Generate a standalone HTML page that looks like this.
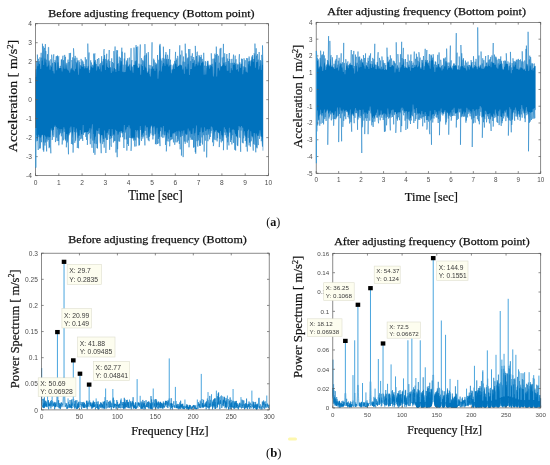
<!DOCTYPE html>
<html lang="en"><head><meta charset="utf-8"><title>Acceleration and power spectrum before and after adjusting frequency</title>
<style>
html,body{margin:0;padding:0;background:#fff}
svg{display:block;position:absolute;left:0;top:0}
text{font-family:"Liberation Serif","DejaVu Serif",serif;fill:#1a1a1a}
.tk{font-size:6.6px}
.tk text{font-family:"Liberation Sans","DejaVu Sans",sans-serif;fill:#4c4c4c}
.tt{fill:#111;stroke:#111;stroke-width:0.25px}
.lb{fill:#111;stroke:#111;stroke-width:0.22px}
.cap{font-size:11.5px;fill:#111}
.tip rect{fill:#fdfdef;stroke:#dedece;stroke-width:0.6}
.tip text{font-family:"Liberation Sans","DejaVu Sans",sans-serif;fill:#3a3a3a}
.mk{fill:#000}
.sig{fill:none;stroke:#1079c4;stroke-linejoin:round}
.spec{fill:none;stroke:#0072BD;stroke-linejoin:round}
.pk{fill:none;stroke:#4aa5de;stroke-width:1}
</style></head><body>
<svg width="550" height="465" viewBox="0 0 550 465">
<rect width="550" height="465" fill="#fff"/>
<path class="sig" stroke-width="0.52" d="M35.71 168 35.71 76.9 36.13 69.3 36.13 141.4 36.55 135.2 36.55 61.4 36.97 61.6 36.97 138.7 37.39 140.9 37.39 54.6 37.81 66.2 37.81 140.9 38.23 150 38.23 60.9 38.65 58.8 38.65 134.8 39.07 137.1 39.07 61 39.49 63.9 39.49 148.5 39.91 144.2 39.91 57.3 40.33 59.6 40.33 148.4 40.75 137.7 40.75 68.9 41.17 52.8 41.17 137.6 41.59 142.2 41.59 57.7 42.01 60.6 42.01 135.2 42.43 134.8 42.43 43.7 42.85 50.5 42.85 142.8 43.27 150.2 43.27 46.3 43.69 65 43.69 151.7 44.11 142.3 44.11 50.1 44.53 47.9 44.53 135.2 44.95 145.5 44.95 58.6 45.37 44.1 45.37 142.5 45.79 136.8 45.79 50.9 46.21 62.4 46.21 139.7 46.63 151.4 46.63 59.7 47.05 66.8 47.05 141.6 47.47 139.2 47.47 54.2 47.89 65.6 47.89 136.6 48.31 140 48.31 47.4 48.73 47.2 48.73 137.7 49.15 148.2 49.15 60.5 49.57 62.2 49.57 147.1 49.99 137 49.99 69.7 50.41 65.5 50.41 144.2 50.83 153.3 50.83 59.3 51.25 66.7 51.25 128.5 51.67 130.4 51.67 54.7 52.09 60.5 52.09 140 52.51 139.2 52.51 62.8 52.93 70.9 52.93 135.5 53.35 129.9 53.35 58.4 53.77 54.3 53.77 137.1 54.19 132.5 54.19 73.5 54.61 62 54.61 126.9 55.03 125.6 55.03 60.2 55.45 62.7 55.45 142.1 55.87 137 55.87 60.8 56.29 56.2 56.29 127.1 56.71 137.7 56.71 70.3 57.13 56.2 57.13 141.1 57.55 130.6 57.55 55.5 57.97 62.2 57.97 128.3 58.39 141 58.39 57.7 58.81 56.3 58.81 145.3 59.23 136.2 59.23 68.6 59.65 67.9 59.65 134.5 60.07 129.1 60.07 66 60.49 66 60.49 133.2 60.91 132.5 60.91 68.1 61.33 59.7 61.33 136.3 61.75 129 61.75 59.4 62.17 71.6 62.17 144.5 62.59 137.1 62.59 57.5 63.01 55.7 63.01 133.3 63.43 140.3 63.43 60.1 63.85 65.9 63.85 127.3 64.27 131.8 64.27 68.8 64.69 54.9 64.69 129.2 65.11 139.3 65.11 61.4 65.53 56.8 65.53 140.7 65.95 140.3 65.95 68.7 66.37 64.4 66.37 147.3 66.79 134 66.79 62.9 67.21 65.3 67.21 142.5 67.63 140.7 67.63 69.5 68.05 59.6 68.05 142.5 68.47 154.3 68.47 70.5 68.89 62 68.89 135.3 69.31 133.3 69.31 53.1 69.73 72.8 69.73 133.3 70.15 127.7 70.15 63.8 70.57 52.9 70.57 132.2 70.99 126.6 70.99 69.5 71.41 68.3 71.41 144 71.83 132.6 71.83 60.1 72.25 62.7 72.25 138.4 72.67 144.5 72.67 57.4 73.09 69.7 73.09 152.6 73.51 131.6 73.51 48.3 73.93 53 73.93 127 74.35 132 74.35 71.2 74.77 58.4 74.77 142.8 75.19 139.2 75.19 55.9 75.61 68.8 75.61 140.7 76.03 133.3 76.03 61.8 76.45 63.2 76.45 128.6 76.87 132.4 76.87 57.7 77.29 61.3 77.29 148 77.71 142.3 77.71 60.5 78.13 68.4 78.13 138.3 78.55 148.3 78.55 74.7 78.97 60.3 78.97 135.6 79.39 140.7 79.39 63.2 79.81 62.2 79.81 135.8 80.23 130.1 80.23 68.7 80.65 65.2 80.65 139.2 81.07 134.1 81.07 58.9 81.49 61.8 81.49 136.8 81.91 138.7 81.91 66.4 82.33 60.5 82.33 134.4 82.75 141 82.75 66.8 83.17 61.6 83.17 125.1 83.59 134.9 83.59 64 84.01 64 84.01 132.8 84.43 132.9 84.43 68.4 84.85 66.2 84.85 132 85.27 132 85.27 57.2 85.69 65.6 85.69 136.8 86.11 133.7 86.11 68.3 86.53 59.4 86.53 139.9 86.95 131.9 86.95 66.2 87.37 68.2 87.37 144.9 87.79 133 87.79 43.6 88.21 63.2 88.21 132 88.63 134.2 88.63 65.8 89.05 52.5 89.05 130.8 89.47 132.9 89.47 72.9 89.89 69.8 89.89 128.3 90.31 144.2 90.31 65.3 90.73 60.3 90.73 138.6 91.15 134.3 91.15 65.8 91.57 62.5 91.57 128.7 91.99 147.8 91.99 67.2 92.41 64.8 92.41 124.2 92.83 140.5 92.83 67.8 93.25 65.5 93.25 133.9 93.67 152.8 93.67 53.6 94.09 62.1 94.09 140.5 94.51 143.4 94.51 55 94.93 53.4 94.93 154.8 95.35 137.2 95.35 60.1 95.77 62.8 95.77 136.5 96.19 143.9 96.19 64 96.61 70.5 96.61 130.4 97.03 148 97.03 63.2 97.45 59 97.45 148.5 97.87 131.1 97.87 66.2 98.29 66.6 98.29 133.7 98.71 131.1 98.71 58 99.13 61.2 99.13 127.9 99.55 134.3 99.55 69.2 99.97 64.2 99.97 140.4 100.39 143.3 100.39 64.4 100.81 62.9 100.81 142.7 101.23 153.2 101.23 71.5 101.65 56.2 101.65 135 102.07 135.2 102.07 61.4 102.49 65.2 102.49 143.9 102.91 143.6 102.91 65.3 103.33 59 103.33 139.1 103.75 141.8 103.75 50.9 104.17 49.1 104.17 147.7 104.59 130.6 104.59 55 105.01 60.7 105.01 138.4 105.43 137.4 105.43 70 105.85 59 105.85 153 106.27 140.4 106.27 63.1 106.69 53.8 106.69 140 107.11 133.1 107.11 60.4 107.53 66.9 107.53 139.8 107.95 136.8 107.95 64.2 108.37 59.4 108.37 131.5 108.79 134.6 108.79 68 109.21 50 109.21 129.1 109.63 149.8 109.63 61.2 110.05 61 110.05 139 110.47 136 110.47 67.3 110.89 68 110.89 144.7 111.31 146.8 111.31 73.1 111.73 58.3 111.73 138.2 112.15 128.9 112.15 64.8 112.57 62 112.57 135.6 112.99 135 112.99 71.5 113.41 63.2 113.41 142.5 113.83 134.5 113.83 51.1 114.25 68.1 114.25 136.5 114.67 141.2 114.67 68.1 115.09 46.5 115.09 140.8 115.51 129.7 115.51 69.3 115.93 72.1 115.93 152.5 116.35 138 116.35 63 116.77 50.1 116.77 131.1 117.19 157.2 117.19 53.3 117.61 50.4 117.61 149.2 118.03 134.8 118.03 64 118.45 63.4 118.45 134.9 118.87 141.4 118.87 71 119.29 56.7 119.29 132.3 119.71 141.6 119.71 65.7 120.13 60.3 120.13 131.5 120.55 137.4 120.55 57.8 120.97 61.3 120.97 132.7 121.39 130.9 121.39 61.1 121.81 47.7 121.81 131.9 122.23 133.4 122.23 51.7 122.65 71.8 122.65 137.2 123.07 134.2 123.07 64.7 123.49 70.3 123.49 132 123.91 148 123.91 72.3 124.33 58.5 124.33 125 124.75 139.4 124.75 52.7 125.17 72.1 125.17 132.6 125.59 131.4 125.59 69.3 126.01 64.6 126.01 129.6 126.43 139.4 126.43 61.1 126.85 60.4 126.85 150.6 127.27 126.9 127.27 61.5 127.69 58.2 127.69 144 128.11 127.8 128.11 67.1 128.53 65.8 128.53 145.9 128.95 125.2 128.95 61.5 129.37 57.6 129.37 137.8 129.79 134.3 129.79 64.4 130.21 68.9 130.21 128.5 130.63 138.1 130.63 70.4 131.05 48.2 131.05 150.9 131.47 145 131.47 62.9 131.89 60.1 131.89 138.3 132.31 137.4 132.31 66.6 132.73 70.3 132.73 138.4 133.15 138.5 133.15 72.7 133.57 64.9 133.57 140.5 133.99 137.6 133.99 47.6 134.41 65.1 134.41 143.7 134.83 146.6 134.83 64.4 135.25 61.2 135.25 140.4 135.67 130 135.67 59.9 136.09 45.1 136.09 146.3 136.51 132.2 136.51 47.1 136.93 60.3 136.93 137.3 137.35 130.3 137.35 65.8 137.77 46.5 137.77 130.6 138.19 137.9 138.19 67.9 138.61 67.7 138.61 139.2 139.03 145.7 139.03 63.7 139.45 66.2 139.45 145 139.87 138.8 139.87 55.2 140.29 44.5 140.29 125.9 140.71 130 140.71 74.7 141.13 64.4 141.13 136.8 141.55 140.9 141.55 58.2 141.97 63.7 141.97 137 142.39 135 142.39 66.1 142.81 59.9 142.81 138.6 143.23 133.3 143.23 61.1 143.65 70 143.65 136.5 144.07 133.7 144.07 57.4 144.49 55.6 144.49 131.3 144.91 145.4 144.91 44.1 145.33 65.6 145.33 125.5 145.75 130.8 145.75 67.6 146.17 55.1 146.17 135.3 146.59 127.4 146.59 53.3 147.01 68.9 147.01 138.2 147.43 127.3 147.43 73 147.85 71.5 147.85 133.4 148.27 140.2 148.27 52.1 148.69 66.7 148.69 137.8 149.11 141.2 149.11 64.9 149.53 73.9 149.53 136.7 149.95 134.5 149.95 68.6 150.37 76.5 150.37 128.7 150.79 133.4 150.79 65.3 151.21 69 151.21 126.5 151.63 125.4 151.63 64.5 152.05 42.3 152.05 134.8 152.47 135.3 152.47 67.1 152.89 66.1 152.89 139.4 153.31 127.8 153.31 68.7 153.73 58.7 153.73 135.6 154.15 126.3 154.15 60.2 154.57 68.1 154.57 128.1 154.99 134.3 154.99 71.1 155.41 62.6 155.41 144.1 155.83 134.5 155.83 65.1 156.25 64.4 156.25 144.4 156.67 132.2 156.67 63.5 157.09 68.8 157.09 127.8 157.51 144 157.51 55 157.93 78.8 157.93 133.7 158.35 139 158.35 72 158.77 59.8 158.77 143.4 159.19 139.9 159.19 70.4 159.61 45.4 159.61 137 160.03 146.1 160.03 43.9 160.45 49.1 160.45 131.2 160.87 127.3 160.87 58.6 161.29 71.6 161.29 136.7 161.71 127.7 161.71 60.6 162.13 66.3 162.13 137.4 162.55 137.7 162.55 63.8 162.97 57.9 162.97 134.6 163.39 126 163.39 46.7 163.81 62.7 163.81 137.6 164.23 135.6 164.23 58.7 164.65 63.3 164.65 135.2 165.07 131.3 165.07 66.1 165.49 54.7 165.49 144.9 165.91 135.2 165.91 52.1 166.33 59.2 166.33 151.4 166.75 143.4 166.75 58.9 167.17 64.6 167.17 141.3 167.59 132.5 167.59 54.8 168.01 58.9 168.01 134.6 168.43 138.7 168.43 59 168.85 66.4 168.85 141.5 169.27 129.7 169.27 64.1 169.69 49 169.69 146.3 170.11 137.1 170.11 64.9 170.53 59.7 170.53 140.3 170.95 138.9 170.95 64.6 171.37 73.3 171.37 137 171.79 139.7 171.79 70.3 172.21 69.4 172.21 139 172.63 134.7 172.63 69 173.05 65.3 173.05 133.2 173.47 142.4 173.47 64.7 173.89 63.7 173.89 133.3 174.31 133.4 174.31 68.9 174.73 60.9 174.73 144.8 175.15 132.1 175.15 60.3 175.57 51.9 175.57 137.6 175.99 142.3 175.99 63.7 176.41 59.9 176.41 135.9 176.83 131.3 176.83 58.4 177.25 67.1 177.25 142.3 177.67 138.9 177.67 55.9 178.09 58.8 178.09 140.9 178.51 139.4 178.51 66 178.93 65.5 178.93 130.7 179.35 143.9 179.35 64 179.77 45.3 179.77 132 180.19 149.3 180.19 64.4 180.61 54.7 180.61 136.8 181.03 136.8 181.03 64.9 181.45 65.6 181.45 155.6 181.87 130.7 181.87 50.5 182.29 59.8 182.29 135.8 182.71 134.7 182.71 69.4 183.13 61.5 183.13 157.1 183.55 131.5 183.55 56.5 183.97 67.1 183.97 130.2 184.39 141.5 184.39 73.7 184.81 61.8 184.81 138.2 185.23 143.8 185.23 43.7 185.65 66.5 185.65 133.8 186.07 141.7 186.07 53.4 186.49 62.1 186.49 134.8 186.91 134.6 186.91 69.2 187.33 58.3 187.33 142.7 187.75 134.9 187.75 63.9 188.17 57.3 188.17 128.4 188.59 140.4 188.59 49.1 189.01 58 189.01 147.3 189.43 132.4 189.43 74.9 189.85 49 189.85 130.4 190.27 137.5 190.27 68.9 190.69 60.9 190.69 133.7 191.11 139.9 191.11 55.8 191.53 68.9 191.53 133.9 191.95 139 191.95 62.9 192.37 53.3 192.37 140 192.79 134.6 192.79 59.1 193.21 62.9 193.21 128.3 193.63 147.7 193.63 57 194.05 60.1 194.05 147.1 194.47 136.6 194.47 60.3 194.89 66.5 194.89 133.3 195.31 152.1 195.31 45.9 195.73 56.8 195.73 153.7 196.15 130.8 196.15 64 196.57 56 196.57 125.5 196.99 141.2 196.99 52.4 197.41 51.7 197.41 143.9 197.83 146.6 197.83 65.5 198.25 61.7 198.25 135 198.67 140.4 198.67 63 199.09 55.1 199.09 138.4 199.51 145.7 199.51 56.4 199.93 57.4 199.93 131.9 200.35 145.9 200.35 65.6 200.77 57.1 200.77 142.8 201.19 127.5 201.19 54.9 201.61 62.8 201.61 131.6 202.03 137.4 202.03 59.7 202.45 58.9 202.45 144.5 202.87 132.9 202.87 61.5 203.29 62.7 203.29 132.3 203.71 135.2 203.71 52.8 204.13 74.7 204.13 151.6 204.55 127.2 204.55 65.7 204.97 68.7 204.97 134.3 205.39 140.6 205.39 61.2 205.81 74.6 205.81 131.1 206.23 135.1 206.23 65.9 206.65 67.5 206.65 157.4 207.07 129.3 207.07 62.1 207.49 61.2 207.49 129.3 207.91 141.2 207.91 60.8 208.33 63.5 208.33 134.5 208.75 134.3 208.75 65.5 209.17 66.4 209.17 129 209.59 139.3 209.59 68.8 210.01 64.7 210.01 131.4 210.43 136.9 210.43 65.1 210.85 66.2 210.85 133.4 211.27 126.5 211.27 53.3 211.69 63.9 211.69 130.8 212.11 127.2 212.11 63.8 212.53 66.8 212.53 142.3 212.95 130.1 212.95 58.8 213.37 76.5 213.37 146.1 213.79 143 213.79 72.5 214.21 58.4 214.21 139.7 214.63 136.2 214.63 54.6 215.05 53.6 215.05 132.1 215.47 130.4 215.47 62.2 215.89 54.9 215.89 140.2 216.31 130.3 216.31 46.6 216.73 76.4 216.73 131.7 217.15 141.4 217.15 54 217.57 63.5 217.57 138.2 217.99 131.9 217.99 68.3 218.41 55.7 218.41 133 218.83 132.9 218.83 67.4 219.25 62.7 219.25 147.1 219.67 139.5 219.67 70.4 220.09 48.6 220.09 139.1 220.51 131.1 220.51 63.4 220.93 47.9 220.93 140.9 221.35 142.4 221.35 66.7 221.77 66 221.77 135.3 222.19 141.2 222.19 57.5 222.61 65.1 222.61 140.5 223.03 137.7 223.03 62.8 223.45 43.9 223.45 150.2 223.87 135 223.87 56.8 224.29 62.6 224.29 127.3 224.71 132.5 224.71 53.3 225.13 65.4 225.13 135.1 225.55 129.3 225.55 65.8 225.97 62.1 225.97 132.8 226.39 137.7 226.39 63.6 226.81 54 226.81 132.5 227.23 149.7 227.23 70.7 227.65 58.5 227.65 142.3 228.07 136.4 228.07 70.7 228.49 61 228.49 137.6 228.91 145.4 228.91 62.6 229.33 53 229.33 127.8 229.75 132.6 229.75 59 230.17 73 230.17 132.5 230.59 142 230.59 67.3 231.01 62.9 231.01 138.1 231.43 139.8 231.43 67.7 231.85 58.9 231.85 144.4 232.27 129.9 232.27 70.2 232.69 62.8 232.69 135.2 233.11 129.3 233.11 59.9 233.53 54.6 233.53 142.9 233.95 129.9 233.95 65.1 234.37 62.8 234.37 133.1 234.79 149.8 234.79 62 235.21 55.6 235.21 134 235.63 150.5 235.63 64.1 236.05 59.3 236.05 136.4 236.47 136.3 236.47 69.7 236.89 63.5 236.89 138.1 237.31 145.3 237.31 68.9 237.73 64.7 237.73 146.1 238.15 137.9 238.15 64.3 238.57 71.6 238.57 130.1 238.99 126.1 238.99 59 239.41 54.2 239.41 136.3 239.83 137.7 239.83 62.4 240.25 66.5 240.25 127.4 240.67 151.8 240.67 67.9 241.09 64 241.09 130.6 241.51 126.1 241.51 58.7 241.93 63.1 241.93 133.2 242.35 142.7 242.35 58.9 242.77 74.2 242.77 127.7 243.19 143.3 243.19 66.4 243.61 70 243.61 138.3 244.03 136 244.03 58.3 244.45 61.4 244.45 131.3 244.87 135.5 244.87 66.6 245.29 60.2 245.29 141 245.71 137.1 245.71 67.4 246.13 71.8 246.13 146.8 246.55 143.8 246.55 58.1 246.97 59.9 246.97 145.8 247.39 151.5 247.39 72.6 247.81 58.2 247.81 131 248.23 137.9 248.23 64.2 248.65 61.3 248.65 129.5 249.07 145.4 249.07 56.5 249.49 60.5 249.49 142.8 249.91 141.9 249.91 61.3 250.33 66.2 250.33 146.7 250.75 131.3 250.75 61.4 251.17 60.2 251.17 141.3 251.59 138.8 251.59 58 252.01 56.4 252.01 136.1 252.43 137.2 252.43 55 252.85 55.7 252.85 144 253.27 150.6 253.27 61.7 253.69 59 253.69 144.1 254.11 133 254.11 53.3 254.53 54.3 254.53 133.2 254.95 144.8 254.95 43.6 255.37 67.7 255.37 142.1 255.79 152.3 255.79 61.9 256.21 48.3 256.21 133.4 256.63 147.4 256.63 55.7 257.05 61.9 257.05 148.3 257.47 135.8 257.47 54.1 257.89 58.5 257.89 135.8 258.31 145.1 258.31 59.6 258.73 69.5 258.73 135.9 259.15 133.4 259.15 52 259.57 66 259.57 138.9 259.99 130.2 259.99 62 260.41 60.1 260.41 134.3 260.83 136.4 260.83 60.8 261.25 70 261.25 141.2 261.67 137 261.67 54.9 262.09 57.8 262.09 142.3 262.51 146.6 262.51 45.4 262.93 64.9 262.93 150.7"/>
<path fill="#0072BD" d="M35.71 76.9 36.13 76.9 36.55 69.3 36.97 61.6 37.39 66.2 37.81 66.2 38.23 66.2 38.65 61 39.07 63.9 39.49 63.9 39.91 63.9 40.33 68.9 40.75 68.9 41.17 68.9 41.59 60.6 42.01 60.6 42.43 60.6 42.85 50.5 43.27 65 43.69 65 44.11 65 44.53 58.6 44.95 58.6 45.37 58.6 45.79 62.4 46.21 62.4 46.63 66.8 47.05 66.8 47.47 66.8 47.89 65.6 48.31 65.6 48.73 60.5 49.15 62.2 49.57 69.7 49.99 69.7 50.41 69.7 50.83 66.7 51.25 66.7 51.67 66.7 52.09 62.8 52.51 70.9 52.93 70.9 53.35 70.9 53.77 73.5 54.19 73.5 54.61 73.5 55.03 62.7 55.45 62.7 55.87 62.7 56.29 70.3 56.71 70.3 57.13 70.3 57.55 62.2 57.97 62.2 58.39 62.2 58.81 68.6 59.23 68.6 59.65 68.6 60.07 67.9 60.49 68.1 60.91 68.1 61.33 68.1 61.75 71.6 62.17 71.6 62.59 71.6 63.01 60.1 63.43 65.9 63.85 68.8 64.27 68.8 64.69 68.8 65.11 61.4 65.53 68.7 65.95 68.7 66.37 68.7 66.79 65.3 67.21 69.5 67.63 69.5 68.05 70.5 68.47 70.5 68.89 70.5 69.31 72.8 69.73 72.8 70.15 72.8 70.57 69.5 70.99 69.5 71.41 69.5 71.83 68.3 72.25 62.7 72.67 69.7 73.09 69.7 73.51 69.7 73.93 71.2 74.35 71.2 74.77 71.2 75.19 68.8 75.61 68.8 76.03 68.8 76.45 63.2 76.87 63.2 77.29 61.3 77.71 68.4 78.13 74.7 78.55 74.7 78.97 74.7 79.39 63.2 79.81 68.7 80.23 68.7 80.65 68.7 81.07 65.2 81.49 66.4 81.91 66.4 82.33 66.8 82.75 66.8 83.17 66.8 83.59 64 84.01 68.4 84.43 68.4 84.85 68.4 85.27 66.2 85.69 68.3 86.11 68.3 86.53 68.3 86.95 68.2 87.37 68.2 87.79 68.2 88.21 65.8 88.63 65.8 89.05 72.9 89.47 72.9 89.89 72.9 90.31 69.8 90.73 65.8 91.15 65.8 91.57 67.2 91.99 67.2 92.41 67.8 92.83 67.8 93.25 67.8 93.67 65.5 94.09 62.1 94.51 62.1 94.93 60.1 95.35 62.8 95.77 64 96.19 70.5 96.61 70.5 97.03 70.5 97.45 66.2 97.87 66.6 98.29 66.6 98.71 66.6 99.13 69.2 99.55 69.2 99.97 69.2 100.39 64.4 100.81 71.5 101.23 71.5 101.65 71.5 102.07 65.2 102.49 65.3 102.91 65.3 103.33 65.3 103.75 59 104.17 55 104.59 60.7 105.01 70 105.43 70 105.85 70 106.27 63.1 106.69 63.1 107.11 66.9 107.53 66.9 107.95 66.9 108.37 68 108.79 68 109.21 68 109.63 61.2 110.05 67.3 110.47 68 110.89 73.1 111.31 73.1 111.73 73.1 112.15 64.8 112.57 71.5 112.99 71.5 113.41 71.5 113.83 68.1 114.25 68.1 114.67 68.1 115.09 69.3 115.51 72.1 115.93 72.1 116.35 72.1 116.77 63 117.19 53.3 117.61 64 118.03 64 118.45 71 118.87 71 119.29 71 119.71 65.7 120.13 65.7 120.55 61.3 120.97 61.3 121.39 61.3 121.81 61.1 122.23 71.8 122.65 71.8 123.07 71.8 123.49 72.3 123.91 72.3 124.33 72.3 124.75 72.1 125.17 72.1 125.59 72.1 126.01 69.3 126.43 64.6 126.85 61.5 127.27 61.5 127.69 67.1 128.11 67.1 128.53 67.1 128.95 65.8 129.37 64.4 129.79 68.9 130.21 70.4 130.63 70.4 131.05 70.4 131.47 62.9 131.89 66.6 132.31 70.3 132.73 72.7 133.15 72.7 133.57 72.7 133.99 65.1 134.41 65.1 134.83 65.1 135.25 64.4 135.67 61.2 136.09 59.9 136.51 60.3 136.93 65.8 137.35 65.8 137.77 67.9 138.19 67.9 138.61 67.9 139.03 67.7 139.45 66.2 139.87 66.2 140.29 74.7 140.71 74.7 141.13 74.7 141.55 64.4 141.97 66.1 142.39 66.1 142.81 66.1 143.23 70 143.65 70 144.07 70 144.49 57.4 144.91 65.6 145.33 67.6 145.75 67.6 146.17 67.6 146.59 68.9 147.01 73 147.43 73 147.85 73 148.27 71.5 148.69 66.7 149.11 73.9 149.53 73.9 149.95 76.5 150.37 76.5 150.79 76.5 151.21 69 151.63 69 152.05 67.1 152.47 67.1 152.89 68.7 153.31 68.7 153.73 68.7 154.15 68.1 154.57 71.1 154.99 71.1 155.41 71.1 155.83 65.1 156.25 65.1 156.67 68.8 157.09 68.8 157.51 78.8 157.93 78.8 158.35 78.8 158.77 72 159.19 70.4 159.61 70.4 160.03 49.1 160.45 58.6 160.87 71.6 161.29 71.6 161.71 71.6 162.13 66.3 162.55 66.3 162.97 63.8 163.39 62.7 163.81 62.7 164.23 63.3 164.65 66.1 165.07 66.1 165.49 66.1 165.91 59.2 166.33 59.2 166.75 64.6 167.17 64.6 167.59 64.6 168.01 59 168.43 66.4 168.85 66.4 169.27 66.4 169.69 64.9 170.11 64.9 170.53 64.9 170.95 73.3 171.37 73.3 171.79 73.3 172.21 70.3 172.63 69.4 173.05 69 173.47 65.3 173.89 68.9 174.31 68.9 174.73 68.9 175.15 60.9 175.57 63.7 175.99 63.7 176.41 63.7 176.83 67.1 177.25 67.1 177.67 67.1 178.09 66 178.51 66 178.93 66 179.35 65.5 179.77 64.4 180.19 64.4 180.61 64.9 181.03 65.6 181.45 65.6 181.87 65.6 182.29 69.4 182.71 69.4 183.13 69.4 183.55 67.1 183.97 73.7 184.39 73.7 184.81 73.7 185.23 66.5 185.65 66.5 186.07 66.5 186.49 69.2 186.91 69.2 187.33 69.2 187.75 63.9 188.17 63.9 188.59 58 189.01 74.9 189.43 74.9 189.85 74.9 190.27 68.9 190.69 68.9 191.11 68.9 191.53 68.9 191.95 68.9 192.37 62.9 192.79 62.9 193.21 62.9 193.63 62.9 194.05 60.3 194.47 66.5 194.89 66.5 195.31 66.5 195.73 64 196.15 64 196.57 64 196.99 56 197.41 65.5 197.83 65.5 198.25 65.5 198.67 63 199.09 63 199.51 57.4 199.93 65.6 200.35 65.6 200.77 65.6 201.19 62.8 201.61 62.8 202.03 62.8 202.45 61.5 202.87 62.7 203.29 62.7 203.71 74.7 204.13 74.7 204.55 74.7 204.97 68.7 205.39 74.6 205.81 74.6 206.23 74.6 206.65 67.5 207.07 67.5 207.49 62.1 207.91 63.5 208.33 65.5 208.75 66.4 209.17 68.8 209.59 68.8 210.01 68.8 210.43 66.2 210.85 66.2 211.27 66.2 211.69 63.9 212.11 66.8 212.53 66.8 212.95 76.5 213.37 76.5 213.79 76.5 214.21 72.5 214.63 58.4 215.05 62.2 215.47 62.2 215.89 62.2 216.31 76.4 216.73 76.4 217.15 76.4 217.57 68.3 217.99 68.3 218.41 68.3 218.83 67.4 219.25 70.4 219.67 70.4 220.09 70.4 220.51 63.4 220.93 66.7 221.35 66.7 221.77 66.7 222.19 66 222.61 65.1 223.03 65.1 223.45 62.8 223.87 62.6 224.29 62.6 224.71 65.4 225.13 65.8 225.55 65.8 225.97 65.8 226.39 63.6 226.81 70.7 227.23 70.7 227.65 70.7 228.07 70.7 228.49 70.7 228.91 62.6 229.33 62.6 229.75 73 230.17 73 230.59 73 231.01 67.7 231.43 67.7 231.85 70.2 232.27 70.2 232.69 70.2 233.11 62.8 233.53 65.1 233.95 65.1 234.37 65.1 234.79 62.8 235.21 64.1 235.63 64.1 236.05 69.7 236.47 69.7 236.89 69.7 237.31 68.9 237.73 68.9 238.15 71.6 238.57 71.6 238.99 71.6 239.41 62.4 239.83 66.5 240.25 67.9 240.67 67.9 241.09 67.9 241.51 64 241.93 63.1 242.35 74.2 242.77 74.2 243.19 74.2 243.61 70 244.03 70 244.45 66.6 244.87 66.6 245.29 67.4 245.71 71.8 246.13 71.8 246.55 71.8 246.97 72.6 247.39 72.6 247.81 72.6 248.23 64.2 248.65 64.2 249.07 61.3 249.49 61.3 249.91 66.2 250.33 66.2 250.75 66.2 251.17 61.4 251.59 60.2 252.01 58 252.43 56.4 252.85 61.7 253.27 61.7 253.69 61.7 254.11 59 254.53 54.3 254.95 67.7 255.37 67.7 255.79 67.7 256.21 61.9 256.63 61.9 257.05 61.9 257.47 61.9 257.89 59.6 258.31 69.5 258.73 69.5 259.15 69.5 259.57 66 259.99 66 260.41 62 260.83 70 261.25 70 261.67 70 262.09 57.8 262.51 64.9 262.93 64.9 262.93 146.6 262.51 142.3 262.09 137 261.67 137 261.25 136.4 260.83 134.3 260.41 130.2 259.99 130.2 259.57 130.2 259.15 133.4 258.73 133.4 258.31 135.8 257.89 135.8 257.47 135.8 257.05 135.8 256.63 133.4 256.21 133.4 255.79 133.4 255.37 142.1 254.95 133.2 254.53 133 254.11 133 253.69 133 253.27 144 252.85 137.2 252.43 136.1 252.01 136.1 251.59 136.1 251.17 131.3 250.75 131.3 250.33 131.3 249.91 141.9 249.49 141.9 249.07 129.5 248.65 129.5 248.23 129.5 247.81 131 247.39 131 246.97 143.8 246.55 143.8 246.13 137.1 245.71 137.1 245.29 135.5 244.87 131.3 244.45 131.3 244.03 131.3 243.61 136 243.19 127.7 242.77 127.7 242.35 127.7 241.93 126.1 241.51 126.1 241.09 126.1 240.67 127.4 240.25 127.4 239.83 127.4 239.41 126.1 238.99 126.1 238.57 126.1 238.15 130.1 237.73 137.9 237.31 138.1 236.89 136.3 236.47 136.3 236.05 136.3 235.63 134 235.21 134 234.79 133.1 234.37 129.9 233.95 129.9 233.53 129.3 233.11 129.3 232.69 129.3 232.27 129.9 231.85 129.9 231.43 138.1 231.01 138.1 230.59 132.5 230.17 132.5 229.75 127.8 229.33 127.8 228.91 127.8 228.49 136.4 228.07 136.4 227.65 136.4 227.23 132.5 226.81 132.5 226.39 132.5 225.97 129.3 225.55 129.3 225.13 129.3 224.71 127.3 224.29 127.3 223.87 127.3 223.45 135 223.03 137.7 222.61 137.7 222.19 135.3 221.77 135.3 221.35 135.3 220.93 131.1 220.51 131.1 220.09 131.1 219.67 139.1 219.25 132.9 218.83 132.9 218.41 131.9 217.99 131.9 217.57 131.9 217.15 131.7 216.73 130.3 216.31 130.3 215.89 130.3 215.47 130.4 215.05 130.4 214.63 132.1 214.21 136.2 213.79 139.7 213.37 130.1 212.95 130.1 212.53 127.2 212.11 127.2 211.69 126.5 211.27 126.5 210.85 126.5 210.43 131.4 210.01 131.4 209.59 129 209.17 129 208.75 129 208.33 134.3 207.91 129.3 207.49 129.3 207.07 129.3 206.65 129.3 206.23 131.1 205.81 131.1 205.39 131.1 204.97 127.2 204.55 127.2 204.13 127.2 203.71 132.3 203.29 132.3 202.87 132.3 202.45 132.9 202.03 131.6 201.61 127.5 201.19 127.5 200.77 127.5 200.35 131.9 199.93 131.9 199.51 131.9 199.09 138.4 198.67 135 198.25 135 197.83 135 197.41 141.2 196.99 125.5 196.57 125.5 196.15 125.5 195.73 130.8 195.31 133.3 194.89 133.3 194.47 133.3 194.05 136.6 193.63 128.3 193.21 128.3 192.79 128.3 192.37 134.6 191.95 133.9 191.53 133.9 191.11 133.7 190.69 133.7 190.27 130.4 189.85 130.4 189.43 130.4 189.01 132.4 188.59 128.4 188.17 128.4 187.75 128.4 187.33 134.6 186.91 134.6 186.49 134.6 186.07 133.8 185.65 133.8 185.23 133.8 184.81 138.2 184.39 130.2 183.97 130.2 183.55 130.2 183.13 131.5 182.71 134.7 182.29 130.7 181.87 130.7 181.45 130.7 181.03 136.8 180.61 136.8 180.19 132 179.77 132 179.35 130.7 178.93 130.7 178.51 130.7 178.09 138.9 177.67 138.9 177.25 131.3 176.83 131.3 176.41 131.3 175.99 135.9 175.57 132.1 175.15 132.1 174.73 132.1 174.31 133.3 173.89 133.3 173.47 133.2 173.05 133.2 172.63 133.2 172.21 134.7 171.79 137 171.37 137 170.95 137 170.53 137.1 170.11 137.1 169.69 129.7 169.27 129.7 168.85 129.7 168.43 134.6 168.01 132.5 167.59 132.5 167.17 132.5 166.75 141.3 166.33 135.2 165.91 135.2 165.49 131.3 165.07 131.3 164.65 131.3 164.23 135.2 163.81 126 163.39 126 162.97 126 162.55 134.6 162.13 127.7 161.71 127.7 161.29 127.3 160.87 127.3 160.45 127.3 160.03 131.2 159.61 137 159.19 137 158.77 139 158.35 133.7 157.93 133.7 157.51 127.8 157.09 127.8 156.67 127.8 156.25 132.2 155.83 134.5 155.41 134.3 154.99 128.1 154.57 126.3 154.15 126.3 153.73 126.3 153.31 127.8 152.89 127.8 152.47 134.8 152.05 125.4 151.63 125.4 151.21 125.4 150.79 126.5 150.37 128.7 149.95 128.7 149.53 134.5 149.11 136.7 148.69 137.8 148.27 133.4 147.85 127.3 147.43 127.3 147.01 127.3 146.59 127.4 146.17 127.4 145.75 125.5 145.33 125.5 144.91 125.5 144.49 131.3 144.07 131.3 143.65 133.3 143.23 133.3 142.81 133.3 142.39 135 141.97 135 141.55 136.8 141.13 130 140.71 125.9 140.29 125.9 139.87 125.9 139.45 138.8 139.03 139.2 138.61 137.9 138.19 130.6 137.77 130.3 137.35 130.3 136.93 130.3 136.51 132.2 136.09 130 135.67 130 135.25 130 134.83 140.4 134.41 137.6 133.99 137.6 133.57 137.6 133.15 138.4 132.73 137.4 132.31 137.4 131.89 137.4 131.47 138.3 131.05 138.1 130.63 128.5 130.21 128.5 129.79 128.5 129.37 125.2 128.95 125.2 128.53 125.2 128.11 127.8 127.69 126.9 127.27 126.9 126.85 126.9 126.43 129.6 126.01 129.6 125.59 129.6 125.17 131.4 124.75 125 124.33 125 123.91 125 123.49 132 123.07 132 122.65 133.4 122.23 131.9 121.81 130.9 121.39 130.9 120.97 130.9 120.55 131.5 120.13 131.5 119.71 131.5 119.29 132.3 118.87 132.3 118.45 134.8 118.03 134.8 117.61 134.8 117.19 131.1 116.77 131.1 116.35 131.1 115.93 129.7 115.51 129.7 115.09 129.7 114.67 136.5 114.25 134.5 113.83 134.5 113.41 134.5 112.99 135 112.57 128.9 112.15 128.9 111.73 128.9 111.31 138.2 110.89 136 110.47 136 110.05 136 109.63 129.1 109.21 129.1 108.79 129.1 108.37 131.5 107.95 131.5 107.53 133.1 107.11 133.1 106.69 133.1 106.27 140 105.85 137.4 105.43 137.4 105.01 130.6 104.59 130.6 104.17 130.6 103.75 139.1 103.33 139.1 102.91 139.1 102.49 135.2 102.07 135 101.65 135 101.23 135 100.81 142.7 100.39 140.4 99.97 134.3 99.55 127.9 99.13 127.9 98.71 127.9 98.29 131.1 97.87 131.1 97.45 131.1 97.03 130.4 96.61 130.4 96.19 130.4 95.77 136.5 95.35 136.5 94.93 137.2 94.51 140.5 94.09 140.5 93.67 133.9 93.25 133.9 92.83 124.2 92.41 124.2 91.99 124.2 91.57 128.7 91.15 128.7 90.73 134.3 90.31 128.3 89.89 128.3 89.47 128.3 89.05 130.8 88.63 130.8 88.21 132 87.79 132 87.37 131.9 86.95 131.9 86.53 131.9 86.11 133.7 85.69 132 85.27 132 84.85 132 84.43 132 84.01 132.8 83.59 125.1 83.17 125.1 82.75 125.1 82.33 134.4 81.91 134.4 81.49 134.1 81.07 134.1 80.65 130.1 80.23 130.1 79.81 130.1 79.39 135.6 78.97 135.6 78.55 135.6 78.13 138.3 77.71 138.3 77.29 132.4 76.87 128.6 76.45 128.6 76.03 128.6 75.61 133.3 75.19 139.2 74.77 132 74.35 127 73.93 127 73.51 127 73.09 131.6 72.67 138.4 72.25 132.6 71.83 132.6 71.41 126.6 70.99 126.6 70.57 126.6 70.15 127.7 69.73 127.7 69.31 133.3 68.89 133.3 68.47 135.3 68.05 140.7 67.63 140.7 67.21 134 66.79 134 66.37 134 65.95 140.3 65.53 139.3 65.11 129.2 64.69 129.2 64.27 127.3 63.85 127.3 63.43 127.3 63.01 133.3 62.59 133.3 62.17 129 61.75 129 61.33 129 60.91 132.5 60.49 129.1 60.07 129.1 59.65 129.1 59.23 134.5 58.81 136.2 58.39 128.3 57.97 128.3 57.55 128.3 57.13 130.6 56.71 127.1 56.29 127.1 55.87 127.1 55.45 125.6 55.03 125.6 54.61 125.6 54.19 126.9 53.77 129.9 53.35 129.9 52.93 129.9 52.51 135.5 52.09 130.4 51.67 128.5 51.25 128.5 50.83 128.5 50.41 137 49.99 137 49.57 137 49.15 137.7 48.73 137.7 48.31 136.6 47.89 136.6 47.47 136.6 47.05 139.2 46.63 139.7 46.21 136.8 45.79 136.8 45.37 136.8 44.95 135.2 44.53 135.2 44.11 135.2 43.69 142.3 43.27 142.8 42.85 134.8 42.43 134.8 42.01 134.8 41.59 135.2 41.17 137.6 40.75 137.6 40.33 137.7 39.91 144.2 39.49 137.1 39.07 134.8 38.65 134.8 38.23 134.8 37.81 140.9 37.39 138.7 36.97 135.2 36.55 135.2 36.13 135.2 35.71 141.4Z"/>
<g stroke="#5a5a5a" stroke-width="0.7" fill="none"><rect x="35.5" y="23.7" width="233" height="151.9"/><path d="M35.5 175.6v-2.2M35.5 23.7v2.2M58.8 175.6v-2.2M58.8 23.7v2.2M82.1 175.6v-2.2M82.1 23.7v2.2M105.4 175.6v-2.2M105.4 23.7v2.2M128.7 175.6v-2.2M128.7 23.7v2.2M152 175.6v-2.2M152 23.7v2.2M175.3 175.6v-2.2M175.3 23.7v2.2M198.6 175.6v-2.2M198.6 23.7v2.2M221.9 175.6v-2.2M221.9 23.7v2.2M245.2 175.6v-2.2M245.2 23.7v2.2M268.5 175.6v-2.2M268.5 23.7v2.2M35.5 175.6h2.2M268.5 175.6h-2.2M35.5 156.61h2.2M268.5 156.61h-2.2M35.5 137.62h2.2M268.5 137.62h-2.2M35.5 118.64h2.2M268.5 118.64h-2.2M35.5 99.65h2.2M268.5 99.65h-2.2M35.5 80.66h2.2M268.5 80.66h-2.2M35.5 61.67h2.2M268.5 61.67h-2.2M35.5 42.69h2.2M268.5 42.69h-2.2M35.5 23.7h2.2M268.5 23.7h-2.2"/></g>
<g class="tk"><text x="35.5" y="185.2" text-anchor="middle">0</text><text x="58.8" y="185.2" text-anchor="middle">1</text><text x="82.1" y="185.2" text-anchor="middle">2</text><text x="105.4" y="185.2" text-anchor="middle">3</text><text x="128.7" y="185.2" text-anchor="middle">4</text><text x="152" y="185.2" text-anchor="middle">5</text><text x="175.3" y="185.2" text-anchor="middle">6</text><text x="198.6" y="185.2" text-anchor="middle">7</text><text x="221.9" y="185.2" text-anchor="middle">8</text><text x="245.2" y="185.2" text-anchor="middle">9</text><text x="268.5" y="185.2" text-anchor="middle">10</text><text x="31.9" y="178" text-anchor="end">-4</text><text x="31.9" y="159.01" text-anchor="end">-3</text><text x="31.9" y="140.03" text-anchor="end">-2</text><text x="31.9" y="121.04" text-anchor="end">-1</text><text x="31.9" y="102.05" text-anchor="end">0</text><text x="31.9" y="83.06" text-anchor="end">1</text><text x="31.9" y="64.07" text-anchor="end">2</text><text x="31.9" y="45.09" text-anchor="end">3</text><text x="31.9" y="26.1" text-anchor="end">4</text></g>
<path d="M35.8 128.1V167.6" stroke="#3f9edb" stroke-width="1.1" fill="none"/>
<text class="tt" font-size="11.2" x="48.3" y="17.3" textLength="206.3" lengthAdjust="spacingAndGlyphs">Before adjusting frequency (Bottom point)</text>
<text class="lb" font-size="12.8" transform="translate(16.9 95.95) rotate(-90) scale(1.094 1)" text-anchor="middle">Acceleration [ m/s<tspan font-size="8.1" dy="-4.2">2</tspan><tspan dy="4.2">]</tspan></text>
<text class="lb" font-size="14.8" transform="translate(155.4 199.7) scale(0.863 1)" text-anchor="middle">Time [sec]</text>
<path class="sig" stroke-width="0.52" d="M316.41 159.9 316.41 50.9 316.83 55.9 316.83 131.4 317.25 110.5 317.25 57.7 317.67 60.7 317.67 125.4 318.09 120.4 318.09 59.8 318.51 59.4 318.51 120.3 318.93 119.1 318.93 68.4 319.35 66.7 319.35 115.8 319.77 125.7 319.77 66.2 320.19 57.8 320.19 114.4 320.61 109.8 320.61 50.7 321.03 58.3 321.03 123.7 321.45 115.6 321.45 66.5 321.87 55.2 321.87 115.7 322.29 112.9 322.29 54.4 322.71 70.9 322.71 122.9 323.13 118.9 323.13 67.8 323.55 51.5 323.55 124.4 323.97 113.2 323.97 63.2 324.39 55.4 324.39 109.6 324.81 119.1 324.81 61.2 325.23 58.5 325.23 117.2 325.65 112.7 325.65 70.1 326.07 65.5 326.07 121 326.49 112.5 326.49 66.9 326.91 64.4 326.91 110.8 327.33 109.5 327.33 60 327.75 61.1 327.75 144.8 328.17 121.2 328.17 58.6 328.59 36.1 328.59 113.4 329.01 118.5 329.01 64.7 329.43 66.3 329.43 116.6 329.85 112.4 329.85 40.9 330.27 59.3 330.27 110.8 330.69 114.4 330.69 56.3 331.11 55.2 331.11 120.2 331.53 120.2 331.53 66.9 331.95 65.5 331.95 112.3 332.37 113.1 332.37 57.3 332.79 65 332.79 115.2 333.21 119.3 333.21 67 333.63 68.1 333.63 125.7 334.05 115 334.05 63.8 334.47 69 334.47 119 334.89 114 334.89 68.4 335.31 60.6 335.31 111.2 335.73 119.3 335.73 62.7 336.15 58.9 336.15 118.3 336.57 117.5 336.57 68.3 336.99 55.1 336.99 116.5 337.41 107.5 337.41 67.2 337.83 64.6 337.83 110.8 338.25 116.1 338.25 60.7 338.67 70.4 338.67 142.1 339.09 116.5 339.09 57.8 339.51 66.3 339.51 114 339.93 107.5 339.93 64.8 340.35 63.4 340.35 118.2 340.77 111.5 340.77 63.6 341.19 53.3 341.19 110.6 341.61 141.3 341.61 63.7 342.03 67.6 342.03 113.5 342.45 111.5 342.45 62.3 342.87 65.7 342.87 126.9 343.29 109.5 343.29 72 343.71 42.9 343.71 120.8 344.13 113.3 344.13 63.4 344.55 62.9 344.55 116.3 344.97 110.8 344.97 74.2 345.39 70.1 345.39 111.4 345.81 119.2 345.81 59.2 346.23 65.3 346.23 110.1 346.65 111.7 346.65 63.4 347.07 65.6 347.07 111.1 347.49 112.2 347.49 63.3 347.91 61.4 347.91 117.1 348.33 115.5 348.33 68.3 348.75 65.1 348.75 115 349.17 118.6 349.17 65.5 349.59 64.1 349.59 123.5 350.01 113.1 350.01 62.8 350.43 63.8 350.43 109.4 350.85 122.2 350.85 65 351.27 50 351.27 123.2 351.69 131.7 351.69 64.8 352.11 65.3 352.11 114.6 352.53 113.5 352.53 54.4 352.95 64.1 352.95 114.4 353.37 115.8 353.37 68.3 353.79 50.9 353.79 116.3 354.21 123.2 354.21 66 354.63 73.6 354.63 111.6 355.05 117.8 355.05 64.7 355.47 54.6 355.47 107.9 355.89 113.1 355.89 61.5 356.31 56.8 356.31 113.1 356.73 110.4 356.73 66 357.15 62.8 357.15 111 357.57 129.8 357.57 71.5 357.99 51.5 357.99 119.5 358.41 116.1 358.41 63.5 358.83 56.8 358.83 117.2 359.25 110.5 359.25 67.6 359.67 56.6 359.67 109.8 360.09 118.1 360.09 61 360.51 60.4 360.51 110 360.93 115.8 360.93 67 361.35 58.6 361.35 117.4 361.77 153 361.77 59.2 362.19 61 362.19 127.3 362.61 126.5 362.61 62.8 363.03 62.1 363.03 109.6 363.45 114.2 363.45 55.1 363.87 64.2 363.87 120.6 364.29 112.4 364.29 65.7 364.71 58 364.71 134.1 365.13 118 365.13 68.8 365.55 53.4 365.55 118.2 365.97 112.5 365.97 66.1 366.39 65.1 366.39 114 366.81 121 366.81 62.6 367.23 63.1 367.23 118.2 367.65 114 367.65 66.7 368.07 57.8 368.07 134.2 368.49 113.6 368.49 60.9 368.91 69.1 368.91 110.2 369.33 110.9 369.33 55.6 369.75 63.5 369.75 120.7 370.17 106.4 370.17 59 370.59 53.4 370.59 110.5 371.01 113.4 371.01 63.9 371.43 67.9 371.43 116.7 371.85 125.4 371.85 61.1 372.27 64.1 372.27 118.1 372.69 122.2 372.69 57.9 373.11 61.4 373.11 127 373.53 116.3 373.53 67.2 373.95 59.2 373.95 118.8 374.37 118.3 374.37 61.9 374.79 43.8 374.79 121.7 375.21 117.3 375.21 64.6 375.63 68.7 375.63 115.2 376.05 114.7 376.05 64.9 376.47 69.3 376.47 112.7 376.89 117.5 376.89 65.8 377.31 62 377.31 117.6 377.73 109.6 377.73 56.9 378.15 52.2 378.15 120.4 378.57 123.3 378.57 66.3 378.99 68.7 378.99 115.4 379.41 116.4 379.41 57.9 379.83 60.9 379.83 114.8 380.25 120.3 380.25 68.3 380.67 60.5 380.67 114.6 381.09 110.4 381.09 69.5 381.51 66.7 381.51 115.7 381.93 117.8 381.93 56.5 382.35 62.1 382.35 115.2 382.77 114.1 382.77 69.2 383.19 60.2 383.19 120 383.61 114.8 383.61 62.8 384.03 63.2 384.03 113.2 384.45 131.9 384.45 69.9 384.87 63.2 384.87 117.7 385.29 131.4 385.29 68.3 385.71 65 385.71 113.8 386.13 117.9 386.13 69.4 386.55 70 386.55 125.3 386.97 115.5 386.97 47.7 387.39 61.8 387.39 116.9 387.81 108.6 387.81 56.8 388.23 62.2 388.23 113.6 388.65 118.6 388.65 61.4 389.07 62.5 389.07 114.3 389.49 117.6 389.49 59.7 389.91 67 389.91 122.1 390.33 130.4 390.33 55.3 390.75 67 390.75 113.6 391.17 117.5 391.17 62.6 391.59 58.5 391.59 110.2 392.01 114.8 392.01 65.5 392.43 65.1 392.43 117 392.85 109.5 392.85 65.1 393.27 60.7 393.27 109.8 393.69 124.4 393.69 66.2 394.11 61.1 394.11 114.7 394.53 114.9 394.53 62.5 394.95 72.5 394.95 112 395.37 112.1 395.37 63.4 395.79 67.6 395.79 132.9 396.21 124.5 396.21 42.3 396.63 67.3 396.63 114 397.05 118.9 397.05 69.3 397.47 65.4 397.47 120.6 397.89 112.6 397.89 54.1 398.31 61.6 398.31 117.3 398.73 115.6 398.73 67.8 399.15 71.9 399.15 112.2 399.57 120.2 399.57 69.6 399.99 62.4 399.99 113.4 400.41 112.1 400.41 54.2 400.83 67.2 400.83 132.1 401.25 108.4 401.25 64.5 401.67 41.8 401.67 126.1 402.09 107.6 402.09 58.1 402.51 64.8 402.51 110.4 402.93 108.4 402.93 57 403.35 47.9 403.35 113.4 403.77 115.3 403.77 59.1 404.19 62.9 404.19 111.3 404.61 112.9 404.61 68.1 405.03 66.3 405.03 120.7 405.45 111.7 405.45 59 405.87 66.7 405.87 130 406.29 111.1 406.29 67.8 406.71 67.8 406.71 112.8 407.13 118.8 407.13 62 407.55 68.2 407.55 128.7 407.97 118 407.97 54.5 408.39 65.7 408.39 112.1 408.81 119.5 408.81 64.8 409.23 67.1 409.23 111.5 409.65 120.6 409.65 60.7 410.07 65.3 410.07 117.7 410.49 124 410.49 70.8 410.91 54.5 410.91 118.8 411.33 120.4 411.33 63.2 411.75 61 411.75 115.1 412.17 111.6 412.17 68.1 412.59 64.9 412.59 116.2 413.01 104.6 413.01 62.6 413.43 67.9 413.43 114.7 413.85 123 413.85 66.5 414.27 51.6 414.27 109.2 414.69 112.9 414.69 64.9 415.11 66.8 415.11 121 415.53 113.6 415.53 58.8 415.95 64.5 415.95 119.1 416.37 108.1 416.37 53.7 416.79 64.8 416.79 114.7 417.21 113.3 417.21 56.8 417.63 67.3 417.63 128.9 418.05 113.8 418.05 60.9 418.47 66.1 418.47 119.6 418.89 116.4 418.89 52.2 419.31 55.2 419.31 113.2 419.73 119.9 419.73 62 420.15 57.6 420.15 118.1 420.57 115.2 420.57 68.7 420.99 67.4 420.99 113.9 421.41 118.5 421.41 68.6 421.83 59.9 421.83 111.1 422.25 117.2 422.25 62.7 422.67 60.2 422.67 126.3 423.09 114.1 423.09 61.9 423.51 56 423.51 116.8 423.93 116.5 423.93 70.1 424.35 66.3 424.35 118.8 424.77 122.7 424.77 61 425.19 48.8 425.19 112 425.61 116 425.61 59.9 426.03 62.3 426.03 114.3 426.45 120 426.45 56.2 426.87 50 426.87 129.6 427.29 127.3 427.29 60 427.71 63.4 427.71 119.9 428.13 116.1 428.13 62.8 428.55 62.9 428.55 121.6 428.97 116.5 428.97 65.5 429.39 54.1 429.39 131 429.81 134.2 429.81 60.8 430.23 68.8 430.23 110.7 430.65 120.4 430.65 57.6 431.07 54.7 431.07 119.7 431.49 144.8 431.49 55.6 431.91 60.5 431.91 118.5 432.33 114.9 432.33 59.2 432.75 57.6 432.75 122.5 433.17 113.9 433.17 54.2 433.59 60.2 433.59 114.5 434.01 118.5 434.01 67.3 434.43 64.5 434.43 115.9 434.85 109.9 434.85 72.1 435.27 61.5 435.27 114.4 435.69 113.2 435.69 61.8 436.11 67.3 436.11 117.2 436.53 111.8 436.53 65.1 436.95 67.6 436.95 117.7 437.37 115.7 437.37 65.5 437.79 54.8 437.79 114.9 438.21 123 438.21 64 438.63 64 438.63 119.2 439.05 110.8 439.05 52.4 439.47 66.3 439.47 135.2 439.89 114 439.89 67 440.31 68.3 440.31 121.4 440.73 113.1 440.73 59.8 441.15 64.2 441.15 108.5 441.57 112.4 441.57 65.8 441.99 70.5 441.99 114.4 442.41 112.8 442.41 65.2 442.83 65.2 442.83 115.5 443.25 113.6 443.25 68.7 443.67 58.4 443.67 113.9 444.09 112.3 444.09 58.6 444.51 66.1 444.51 111.6 444.93 110 444.93 66.6 445.35 57.5 445.35 116.4 445.77 124.6 445.77 61.7 446.19 61.1 446.19 122.4 446.61 120.7 446.61 48.6 447.03 63.2 447.03 111.8 447.45 113.1 447.45 69.6 447.87 62.6 447.87 114.2 448.29 118.6 448.29 66 448.71 67.7 448.71 134.7 449.13 116.4 449.13 62.5 449.55 67.6 449.55 115.6 449.97 113.7 449.97 59.7 450.39 45.6 450.39 112.5 450.81 116.7 450.81 65.4 451.23 60.4 451.23 120.7 451.65 117.1 451.65 67.8 452.07 68.2 452.07 110.1 452.49 116 452.49 69.6 452.91 65.8 452.91 109.4 453.33 115.7 453.33 65.2 453.75 63.5 453.75 112.4 454.17 107.7 454.17 63.6 454.59 66.1 454.59 114.8 455.01 115.9 455.01 65.1 455.43 65.5 455.43 113.2 455.85 113.4 455.85 64.4 456.27 33.1 456.27 127.5 456.69 113.2 456.69 65.5 457.11 52.7 457.11 120 457.53 114.7 457.53 69.8 457.95 69.2 457.95 112 458.37 118.8 458.37 65.5 458.79 69.4 458.79 108.6 459.21 112.4 459.21 56.5 459.63 69.8 459.63 109.3 460.05 112.2 460.05 68.1 460.47 66.5 460.47 144.8 460.89 108.4 460.89 45 461.31 55.6 461.31 116.4 461.73 117.2 461.73 53.3 462.15 66.3 462.15 116.4 462.57 113.8 462.57 65.8 462.99 59.7 462.99 114.9 463.41 116.7 463.41 58.2 463.83 67.4 463.83 111.4 464.25 116.6 464.25 65.5 464.67 67.7 464.67 115.3 465.09 116.4 465.09 64.8 465.51 60.6 465.51 112.5 465.93 122.7 465.93 68.4 466.35 62.6 466.35 120.6 466.77 107.8 466.77 70.5 467.19 65.6 467.19 109 467.61 117.4 467.61 65.8 468.03 61.6 468.03 114.1 468.45 112.7 468.45 66.9 468.87 65 468.87 109.6 469.29 112.4 469.29 69.6 469.71 64.9 469.71 110.7 470.13 116.3 470.13 65.4 470.55 66.6 470.55 113.5 470.97 111.6 470.97 60.1 471.39 60.9 471.39 119.3 471.81 118.9 471.81 62.8 472.23 62 472.23 147 472.65 113.1 472.65 67.6 473.07 68.5 473.07 109.1 473.49 123.3 473.49 56.2 473.91 65.8 473.91 117.9 474.33 110.8 474.33 66.7 474.75 64.9 474.75 119.2 475.17 122.7 475.17 61.7 475.59 65.7 475.59 115.9 476.01 109.8 476.01 58.9 476.43 66.5 476.43 115.9 476.85 109.3 476.85 66.7 477.27 69.2 477.27 119 477.69 119.2 477.69 27.4 478.11 66 478.11 115.2 478.53 121.2 478.53 63.6 478.95 55.5 478.95 109 479.37 124.3 479.37 68.1 479.79 66.5 479.79 115.8 480.21 106 480.21 64.8 480.63 65.2 480.63 111.3 481.05 111.9 481.05 51.5 481.47 68.6 481.47 107.5 481.89 117.3 481.89 68.4 482.31 63.5 482.31 137.8 482.73 123.9 482.73 58.3 483.15 68.9 483.15 116.6 483.57 122.2 483.57 60.5 483.99 60.1 483.99 117.4 484.41 127.5 484.41 68.3 484.83 66.6 484.83 119.2 485.25 110.7 485.25 60.3 485.67 56 485.67 114.3 486.09 111.6 486.09 66 486.51 63 486.51 122.3 486.93 118 486.93 62.3 487.35 66.6 487.35 114.4 487.77 116.4 487.77 66.1 488.19 55.1 488.19 114 488.61 118.9 488.61 63.1 489.03 59.9 489.03 114.7 489.45 123.4 489.45 65.9 489.87 59.3 489.87 113.3 490.29 119.4 490.29 61.6 490.71 56.9 490.71 123.1 491.13 131 491.13 67.3 491.55 61.7 491.55 115.4 491.97 117.1 491.97 55.4 492.39 62.3 492.39 117.6 492.81 121 492.81 62.4 493.23 43 493.23 126.6 493.65 113.7 493.65 62.9 494.07 63.3 494.07 118.1 494.49 116.9 494.49 54.6 494.91 65.1 494.91 115.5 495.33 109.6 495.33 63.4 495.75 56.6 495.75 117.3 496.17 113.4 496.17 57.5 496.59 67.6 496.59 115.2 497.01 122.1 497.01 59.6 497.43 63.8 497.43 116 497.85 123 497.85 68.8 498.27 63.4 498.27 116.1 498.69 111.3 498.69 58.8 499.11 65.3 499.11 125.1 499.53 119.3 499.53 62.6 499.95 59 499.95 109.6 500.37 116.3 500.37 64.1 500.79 56.4 500.79 117.8 501.21 125.9 501.21 61 501.63 60.8 501.63 117.1 502.05 123.2 502.05 63.6 502.47 67 502.47 121.1 502.89 113.2 502.89 69.2 503.31 69.7 503.31 116.6 503.73 118.4 503.73 60.9 504.15 65.3 504.15 116.4 504.57 110.7 504.57 66.8 504.99 60.4 504.99 112.7 505.41 112.3 505.41 61.2 505.83 63.7 505.83 121.1 506.25 109.7 506.25 53.3 506.67 61.3 506.67 114.4 507.09 116.8 507.09 63.8 507.51 64 507.51 116.3 507.93 118.1 507.93 61.4 508.35 66 508.35 135.6 508.77 123.7 508.77 70.3 509.19 66.2 509.19 120.4 509.61 107.3 509.61 65.1 510.03 62.5 510.03 119.6 510.45 120.7 510.45 51.9 510.87 64.7 510.87 109.2 511.29 132.3 511.29 73.2 511.71 67.4 511.71 124.9 512.13 120.6 512.13 63.1 512.55 69.9 512.55 119.6 512.97 114.6 512.97 58.3 513.39 64.3 513.39 112.5 513.81 110.8 513.81 61.4 514.23 66.8 514.23 110.1 514.65 120.8 514.65 62.3 515.07 61 515.07 113.5 515.49 107.6 515.49 62.1 515.91 65 515.91 116.4 516.33 110.6 516.33 59.9 516.75 68.7 516.75 114.2 517.17 116.8 517.17 59.5 517.59 62.6 517.59 119 518.01 119.7 518.01 68.9 518.43 58.9 518.43 111 518.85 114.3 518.85 69.8 519.27 60 519.27 114.7 519.69 117.1 519.69 69.2 520.11 67.6 520.11 120.7 520.53 119.1 520.53 59.4 520.95 64.1 520.95 109.1 521.37 114.4 521.37 67.4 521.79 61.3 521.79 105 522.21 117.7 522.21 51.3 522.63 68.4 522.63 108.4 523.05 111.4 523.05 61.5 523.47 65.3 523.47 109.8 523.89 113.3 523.89 70.1 524.31 68.8 524.31 115.8 524.73 118.4 524.73 60.5 525.15 67.2 525.15 122.1 525.57 110.7 525.57 70.9 525.99 48.9 525.99 112.9 526.41 106.9 526.41 45.6 526.83 63 526.83 115.2 527.25 111.4 527.25 64.3 527.67 65.8 527.67 111.7 528.09 113.9 528.09 31.8 528.51 71.1 528.51 151.3 528.93 120 528.93 70 529.35 59.4 529.35 122.8 529.77 112 529.77 55.7 530.19 65.5 530.19 121.6 530.61 115.2 530.61 57.1 531.03 63 531.03 113 531.45 120 531.45 69.8 531.87 63.3 531.87 112 532.29 111.9 532.29 68.1 532.71 63.5 532.71 118.8 533.13 109 533.13 70.5 533.55 67.8 533.55 115.7 533.97 118.7 533.97 64 534.39 63.6 534.39 108 534.81 118.2 534.81 66.2 535.23 66.1 535.23 110.2"/>
<path fill="#0072BD" d="M316.41 55.9 316.83 57.7 317.25 60.7 317.67 60.7 318.09 60.7 318.51 68.4 318.93 68.4 319.35 68.4 319.77 66.7 320.19 66.2 320.61 58.3 321.03 66.5 321.45 66.5 321.87 66.5 322.29 70.9 322.71 70.9 323.13 70.9 323.55 67.8 323.97 63.2 324.39 63.2 324.81 61.2 325.23 70.1 325.65 70.1 326.07 70.1 326.49 66.9 326.91 66.9 327.33 64.4 327.75 61.1 328.17 61.1 328.59 64.7 329.01 66.3 329.43 66.3 329.85 66.3 330.27 59.3 330.69 59.3 331.11 66.9 331.53 66.9 331.95 66.9 332.37 65.5 332.79 67 333.21 68.1 333.63 68.1 334.05 69 334.47 69 334.89 69 335.31 68.4 335.73 62.7 336.15 68.3 336.57 68.3 336.99 68.3 337.41 67.2 337.83 67.2 338.25 70.4 338.67 70.4 339.09 70.4 339.51 66.3 339.93 66.3 340.35 64.8 340.77 63.6 341.19 63.7 341.61 67.6 342.03 67.6 342.45 67.6 342.87 72 343.29 72 343.71 72 344.13 63.4 344.55 74.2 344.97 74.2 345.39 74.2 345.81 70.1 346.23 65.3 346.65 65.6 347.07 65.6 347.49 65.6 347.91 68.3 348.33 68.3 348.75 68.3 349.17 65.5 349.59 65.5 350.01 64.1 350.43 65 350.85 65 351.27 65 351.69 65.3 352.11 65.3 352.53 65.3 352.95 68.3 353.37 68.3 353.79 68.3 354.21 73.6 354.63 73.6 355.05 73.6 355.47 64.7 355.89 61.5 356.31 66 356.73 66 357.15 71.5 357.57 71.5 357.99 71.5 358.41 63.5 358.83 67.6 359.25 67.6 359.67 67.6 360.09 61 360.51 67 360.93 67 361.35 67 361.77 61 362.19 62.8 362.61 62.8 363.03 62.8 363.45 64.2 363.87 65.7 364.29 65.7 364.71 68.8 365.13 68.8 365.55 68.8 365.97 66.1 366.39 66.1 366.81 65.1 367.23 66.7 367.65 66.7 368.07 66.7 368.49 69.1 368.91 69.1 369.33 69.1 369.75 63.5 370.17 63.5 370.59 63.9 371.01 67.9 371.43 67.9 371.85 67.9 372.27 64.1 372.69 64.1 373.11 67.2 373.53 67.2 373.95 67.2 374.37 61.9 374.79 64.6 375.21 68.7 375.63 68.7 376.05 69.3 376.47 69.3 376.89 69.3 377.31 65.8 377.73 62 378.15 66.3 378.57 68.7 378.99 68.7 379.41 68.7 379.83 68.3 380.25 68.3 380.67 69.5 381.09 69.5 381.51 69.5 381.93 66.7 382.35 69.2 382.77 69.2 383.19 69.2 383.61 63.2 384.03 69.9 384.45 69.9 384.87 69.9 385.29 68.3 385.71 69.4 386.13 70 386.55 70 386.97 70 387.39 61.8 387.81 62.2 388.23 62.2 388.65 62.5 389.07 62.5 389.49 67 389.91 67 390.33 67 390.75 67 391.17 67 391.59 65.5 392.01 65.5 392.43 65.5 392.85 65.1 393.27 66.2 393.69 66.2 394.11 66.2 394.53 72.5 394.95 72.5 395.37 72.5 395.79 67.6 396.21 67.6 396.63 69.3 397.05 69.3 397.47 69.3 397.89 65.4 398.31 67.8 398.73 71.9 399.15 71.9 399.57 71.9 399.99 69.6 400.41 67.2 400.83 67.2 401.25 67.2 401.67 64.5 402.09 64.8 402.51 64.8 402.93 64.8 403.35 59.1 403.77 62.9 404.19 68.1 404.61 68.1 405.03 68.1 405.45 66.7 405.87 67.8 406.29 67.8 406.71 67.8 407.13 68.2 407.55 68.2 407.97 68.2 408.39 65.7 408.81 67.1 409.23 67.1 409.65 67.1 410.07 70.8 410.49 70.8 410.91 70.8 411.33 63.2 411.75 68.1 412.17 68.1 412.59 68.1 413.01 67.9 413.43 67.9 413.85 67.9 414.27 66.5 414.69 66.8 415.11 66.8 415.53 66.8 415.95 64.5 416.37 64.8 416.79 64.8 417.21 67.3 417.63 67.3 418.05 67.3 418.47 66.1 418.89 66.1 419.31 62 419.73 62 420.15 68.7 420.57 68.7 420.99 68.7 421.41 68.6 421.83 68.6 422.25 62.7 422.67 62.7 423.09 61.9 423.51 70.1 423.93 70.1 424.35 70.1 424.77 66.3 425.19 61 425.61 62.3 426.03 62.3 426.45 62.3 426.87 60 427.29 63.4 427.71 63.4 428.13 63.4 428.55 65.5 428.97 65.5 429.39 65.5 429.81 68.8 430.23 68.8 430.65 68.8 431.07 57.6 431.49 60.5 431.91 60.5 432.33 60.5 432.75 59.2 433.17 60.2 433.59 67.3 434.01 67.3 434.43 72.1 434.85 72.1 435.27 72.1 435.69 67.3 436.11 67.3 436.53 67.6 436.95 67.6 437.37 67.6 437.79 65.5 438.21 64 438.63 64 439.05 66.3 439.47 67 439.89 68.3 440.31 68.3 440.73 68.3 441.15 65.8 441.57 70.5 441.99 70.5 442.41 70.5 442.83 68.7 443.25 68.7 443.67 68.7 444.09 66.1 444.51 66.6 444.93 66.6 445.35 66.6 445.77 61.7 446.19 61.7 446.61 63.2 447.03 69.6 447.45 69.6 447.87 69.6 448.29 67.7 448.71 67.7 449.13 67.7 449.55 67.6 449.97 67.6 450.39 65.4 450.81 65.4 451.23 67.8 451.65 68.2 452.07 69.6 452.49 69.6 452.91 69.6 453.33 65.8 453.75 65.2 454.17 66.1 454.59 66.1 455.01 66.1 455.43 65.5 455.85 65.5 456.27 65.5 456.69 65.5 457.11 69.8 457.53 69.8 457.95 69.8 458.37 69.4 458.79 69.4 459.21 69.8 459.63 69.8 460.05 69.8 460.47 68.1 460.89 66.5 461.31 55.6 461.73 66.3 462.15 66.3 462.57 66.3 462.99 65.8 463.41 67.4 463.83 67.4 464.25 67.7 464.67 67.7 465.09 67.7 465.51 68.4 465.93 68.4 466.35 70.5 466.77 70.5 467.19 70.5 467.61 65.8 468.03 66.9 468.45 66.9 468.87 69.6 469.29 69.6 469.71 69.6 470.13 66.6 470.55 66.6 470.97 66.6 471.39 62.8 471.81 62.8 472.23 67.6 472.65 68.5 473.07 68.5 473.49 68.5 473.91 66.7 474.33 66.7 474.75 66.7 475.17 65.7 475.59 65.7 476.01 66.5 476.43 66.7 476.85 69.2 477.27 69.2 477.69 69.2 478.11 66 478.53 66 478.95 68.1 479.37 68.1 479.79 68.1 480.21 66.5 480.63 65.2 481.05 68.6 481.47 68.6 481.89 68.6 482.31 68.4 482.73 68.9 483.15 68.9 483.57 68.9 483.99 68.3 484.41 68.3 484.83 68.3 485.25 66.6 485.67 66 486.09 66 486.51 66 486.93 66.6 487.35 66.6 487.77 66.6 488.19 66.1 488.61 63.1 489.03 65.9 489.45 65.9 489.87 65.9 490.29 61.6 490.71 67.3 491.13 67.3 491.55 67.3 491.97 62.3 492.39 62.4 492.81 62.4 493.23 62.9 493.65 63.3 494.07 63.3 494.49 65.1 494.91 65.1 495.33 65.1 495.75 63.4 496.17 67.6 496.59 67.6 497.01 67.6 497.43 68.8 497.85 68.8 498.27 68.8 498.69 65.3 499.11 65.3 499.53 65.3 499.95 64.1 500.37 64.1 500.79 64.1 501.21 61 501.63 63.6 502.05 67 502.47 69.2 502.89 69.7 503.31 69.7 503.73 69.7 504.15 66.8 504.57 66.8 504.99 66.8 505.41 63.7 505.83 63.7 506.25 63.7 506.67 63.8 507.09 64 507.51 64 507.93 66 508.35 70.3 508.77 70.3 509.19 70.3 509.61 66.2 510.03 65.1 510.45 64.7 510.87 73.2 511.29 73.2 511.71 73.2 512.13 69.9 512.55 69.9 512.97 69.9 513.39 64.3 513.81 66.8 514.23 66.8 514.65 66.8 515.07 62.3 515.49 65 515.91 65 516.33 68.7 516.75 68.7 517.17 68.7 517.59 68.9 518.01 68.9 518.43 69.8 518.85 69.8 519.27 69.8 519.69 69.2 520.11 69.2 520.53 67.6 520.95 67.4 521.37 67.4 521.79 67.4 522.21 68.4 522.63 68.4 523.05 68.4 523.47 70.1 523.89 70.1 524.31 70.1 524.73 68.8 525.15 70.9 525.57 70.9 525.99 70.9 526.41 63 526.83 64.3 527.25 65.8 527.67 65.8 528.09 71.1 528.51 71.1 528.93 71.1 529.35 70 529.77 65.5 530.19 65.5 530.61 65.5 531.03 69.8 531.45 69.8 531.87 69.8 532.29 68.1 532.71 70.5 533.13 70.5 533.55 70.5 533.97 67.8 534.39 66.2 534.81 66.2 535.23 66.2 535.23 110.2 534.81 108 534.39 108 533.97 108 533.55 109 533.13 109 532.71 109 532.29 111.9 531.87 111.9 531.45 112 531.03 113 530.61 113 530.19 112 529.77 112 529.35 112 528.93 120 528.51 113.9 528.09 111.7 527.67 111.4 527.25 111.4 526.83 106.9 526.41 106.9 525.99 106.9 525.57 110.7 525.15 110.7 524.73 115.8 524.31 113.3 523.89 109.8 523.47 109.8 523.05 108.4 522.63 108.4 522.21 105 521.79 105 521.37 105 520.95 109.1 520.53 109.1 520.11 117.1 519.69 114.7 519.27 114.3 518.85 111 518.43 111 518.01 111 517.59 116.8 517.17 114.2 516.75 110.6 516.33 110.6 515.91 107.6 515.49 107.6 515.07 107.6 514.65 110.1 514.23 110.1 513.81 110.1 513.39 110.8 512.97 112.5 512.55 114.6 512.13 119.6 511.71 120.6 511.29 109.2 510.87 109.2 510.45 109.2 510.03 107.3 509.61 107.3 509.19 107.3 508.77 120.4 508.35 118.1 507.93 116.3 507.51 116.3 507.09 114.4 506.67 109.7 506.25 109.7 505.83 109.7 505.41 112.3 504.99 110.7 504.57 110.7 504.15 110.7 503.73 116.4 503.31 113.2 502.89 113.2 502.47 113.2 502.05 117.1 501.63 117.1 501.21 117.1 500.79 116.3 500.37 109.6 499.95 109.6 499.53 109.6 499.11 111.3 498.69 111.3 498.27 111.3 497.85 116 497.43 116 497.01 115.2 496.59 113.4 496.17 113.4 495.75 109.6 495.33 109.6 494.91 109.6 494.49 115.5 494.07 113.7 493.65 113.7 493.23 113.7 492.81 117.6 492.39 117.1 491.97 115.4 491.55 115.4 491.13 115.4 490.71 119.4 490.29 113.3 489.87 113.3 489.45 113.3 489.03 114.7 488.61 114 488.19 114 487.77 114 487.35 114.4 486.93 114.4 486.51 111.6 486.09 111.6 485.67 110.7 485.25 110.7 484.83 110.7 484.41 117.4 483.99 117.4 483.57 116.6 483.15 116.6 482.73 116.6 482.31 117.3 481.89 107.5 481.47 107.5 481.05 107.5 480.63 106 480.21 106 479.79 106 479.37 109 478.95 109 478.53 109 478.11 115.2 477.69 115.2 477.27 109.3 476.85 109.3 476.43 109.3 476.01 109.8 475.59 109.8 475.17 115.9 474.75 110.8 474.33 110.8 473.91 110.8 473.49 109.1 473.07 109.1 472.65 109.1 472.23 113.1 471.81 118.9 471.39 111.6 470.97 111.6 470.55 111.6 470.13 110.7 469.71 110.7 469.29 109.6 468.87 109.6 468.45 109.6 468.03 112.7 467.61 109 467.19 107.8 466.77 107.8 466.35 107.8 465.93 112.5 465.51 112.5 465.09 112.5 464.67 115.3 464.25 111.4 463.83 111.4 463.41 111.4 462.99 113.8 462.57 113.8 462.15 113.8 461.73 116.4 461.31 108.4 460.89 108.4 460.47 108.4 460.05 109.3 459.63 109.3 459.21 108.6 458.79 108.6 458.37 108.6 457.95 112 457.53 112 457.11 113.2 456.69 113.2 456.27 113.2 455.85 113.2 455.43 113.2 455.01 113.2 454.59 107.7 454.17 107.7 453.75 107.7 453.33 109.4 452.91 109.4 452.49 109.4 452.07 110.1 451.65 110.1 451.23 116.7 450.81 112.5 450.39 112.5 449.97 112.5 449.55 113.7 449.13 115.6 448.71 116.4 448.29 114.2 447.87 113.1 447.45 111.8 447.03 111.8 446.61 111.8 446.19 120.7 445.77 116.4 445.35 110 444.93 110 444.51 110 444.09 111.6 443.67 112.3 443.25 113.6 442.83 112.8 442.41 112.8 441.99 112.4 441.57 108.5 441.15 108.5 440.73 108.5 440.31 113.1 439.89 114 439.47 110.8 439.05 110.8 438.63 110.8 438.21 114.9 437.79 114.9 437.37 114.9 436.95 111.8 436.53 111.8 436.11 111.8 435.69 113.2 435.27 109.9 434.85 109.9 434.43 109.9 434.01 114.5 433.59 113.9 433.17 113.9 432.75 113.9 432.33 114.9 431.91 114.9 431.49 118.5 431.07 119.7 430.65 110.7 430.23 110.7 429.81 110.7 429.39 116.5 428.97 116.5 428.55 116.1 428.13 116.1 427.71 116.1 427.29 119.9 426.87 120 426.45 114.3 426.03 114.3 425.61 112 425.19 112 424.77 112 424.35 116.5 423.93 116.5 423.51 114.1 423.09 114.1 422.67 114.1 422.25 111.1 421.83 111.1 421.41 111.1 420.99 113.9 420.57 113.9 420.15 115.2 419.73 113.2 419.31 113.2 418.89 113.2 418.47 113.8 418.05 113.8 417.63 113.3 417.21 113.3 416.79 108.1 416.37 108.1 415.95 108.1 415.53 113.6 415.11 112.9 414.69 109.2 414.27 109.2 413.85 109.2 413.43 104.6 413.01 104.6 412.59 104.6 412.17 111.6 411.75 111.6 411.33 115.1 410.91 118.8 410.49 117.7 410.07 117.7 409.65 111.5 409.23 111.5 408.81 111.5 408.39 112.1 407.97 112.1 407.55 118 407.13 112.8 406.71 111.1 406.29 111.1 405.87 111.1 405.45 111.7 405.03 111.7 404.61 111.3 404.19 111.3 403.77 111.3 403.35 108.4 402.93 108.4 402.51 107.6 402.09 107.6 401.67 107.6 401.25 108.4 400.83 108.4 400.41 112.1 399.99 112.1 399.57 112.2 399.15 112.2 398.73 112.2 398.31 112.6 397.89 112.6 397.47 112.6 397.05 114 396.63 114 396.21 114 395.79 112.1 395.37 112 394.95 112 394.53 112 394.11 114.7 393.69 109.8 393.27 109.5 392.85 109.5 392.43 109.5 392.01 110.2 391.59 110.2 391.17 110.2 390.75 113.6 390.33 113.6 389.91 117.6 389.49 114.3 389.07 114.3 388.65 113.6 388.23 108.6 387.81 108.6 387.39 108.6 386.97 115.5 386.55 115.5 386.13 113.8 385.71 113.8 385.29 113.8 384.87 117.7 384.45 113.2 384.03 113.2 383.61 113.2 383.19 114.1 382.77 114.1 382.35 114.1 381.93 115.2 381.51 110.4 381.09 110.4 380.67 110.4 380.25 114.6 379.83 114.8 379.41 114.8 378.99 115.4 378.57 115.4 378.15 109.6 377.73 109.6 377.31 109.6 376.89 112.7 376.47 112.7 376.05 112.7 375.63 114.7 375.21 115.2 374.79 117.3 374.37 118.3 373.95 116.3 373.53 116.3 373.11 116.3 372.69 118.1 372.27 118.1 371.85 116.7 371.43 113.4 371.01 110.5 370.59 106.4 370.17 106.4 369.75 106.4 369.33 110.2 368.91 110.2 368.49 110.2 368.07 113.6 367.65 114 367.23 114 366.81 114 366.39 112.5 365.97 112.5 365.55 112.5 365.13 118 364.71 112.4 364.29 112.4 363.87 112.4 363.45 109.6 363.03 109.6 362.61 109.6 362.19 126.5 361.77 117.4 361.35 115.8 360.93 110 360.51 110 360.09 109.8 359.67 109.8 359.25 109.8 358.83 110.5 358.41 116.1 357.99 116.1 357.57 111 357.15 110.4 356.73 110.4 356.31 110.4 355.89 107.9 355.47 107.9 355.05 107.9 354.63 111.6 354.21 111.6 353.79 115.8 353.37 114.4 352.95 113.5 352.53 113.5 352.11 113.5 351.69 114.6 351.27 122.2 350.85 109.4 350.43 109.4 350.01 109.4 349.59 113.1 349.17 115 348.75 115 348.33 115 347.91 112.2 347.49 111.1 347.07 111.1 346.65 110.1 346.23 110.1 345.81 110.1 345.39 110.8 344.97 110.8 344.55 110.8 344.13 113.3 343.71 109.5 343.29 109.5 342.87 109.5 342.45 111.5 342.03 111.5 341.61 110.6 341.19 110.6 340.77 110.6 340.35 107.5 339.93 107.5 339.51 107.5 339.09 114 338.67 116.1 338.25 110.8 337.83 107.5 337.41 107.5 336.99 107.5 336.57 116.5 336.15 117.5 335.73 111.2 335.31 111.2 334.89 111.2 334.47 114 334.05 115 333.63 115 333.21 115.2 332.79 113.1 332.37 112.3 331.95 112.3 331.53 112.3 331.11 114.4 330.69 110.8 330.27 110.8 329.85 110.8 329.43 112.4 329.01 113.4 328.59 113.4 328.17 113.4 327.75 109.5 327.33 109.5 326.91 109.5 326.49 110.8 326.07 112.5 325.65 112.7 325.23 112.7 324.81 109.6 324.39 109.6 323.97 109.6 323.55 113.2 323.13 118.9 322.71 112.9 322.29 112.9 321.87 112.9 321.45 115.6 321.03 109.8 320.61 109.8 320.19 109.8 319.77 114.4 319.35 115.8 318.93 115.8 318.51 119.1 318.09 120.3 317.67 110.5 317.25 110.5 316.83 110.5 316.41 131.4Z"/>
<g stroke="#5a5a5a" stroke-width="0.7" fill="none"><rect x="316.2" y="22.4" width="224.5" height="150.9"/><path d="M316.2 173.3v-2.2M316.2 22.4v2.2M338.65 173.3v-2.2M338.65 22.4v2.2M361.1 173.3v-2.2M361.1 22.4v2.2M383.55 173.3v-2.2M383.55 22.4v2.2M406 173.3v-2.2M406 22.4v2.2M428.45 173.3v-2.2M428.45 22.4v2.2M450.9 173.3v-2.2M450.9 22.4v2.2M473.35 173.3v-2.2M473.35 22.4v2.2M495.8 173.3v-2.2M495.8 22.4v2.2M518.25 173.3v-2.2M518.25 22.4v2.2M540.7 173.3v-2.2M540.7 22.4v2.2M316.2 173.3h2.2M540.7 173.3h-2.2M316.2 156.53h2.2M540.7 156.53h-2.2M316.2 139.77h2.2M540.7 139.77h-2.2M316.2 123h2.2M540.7 123h-2.2M316.2 106.23h2.2M540.7 106.23h-2.2M316.2 89.47h2.2M540.7 89.47h-2.2M316.2 72.7h2.2M540.7 72.7h-2.2M316.2 55.93h2.2M540.7 55.93h-2.2M316.2 39.17h2.2M540.7 39.17h-2.2M316.2 22.4h2.2M540.7 22.4h-2.2"/></g>
<g class="tk" style="font-size:6.3px"><text x="316.2" y="182.2" text-anchor="middle">0</text><text x="338.65" y="182.2" text-anchor="middle">1</text><text x="361.1" y="182.2" text-anchor="middle">2</text><text x="383.55" y="182.2" text-anchor="middle">3</text><text x="406" y="182.2" text-anchor="middle">4</text><text x="428.45" y="182.2" text-anchor="middle">5</text><text x="450.9" y="182.2" text-anchor="middle">6</text><text x="473.35" y="182.2" text-anchor="middle">7</text><text x="495.8" y="182.2" text-anchor="middle">8</text><text x="518.25" y="182.2" text-anchor="middle">9</text><text x="540.7" y="182.2" text-anchor="middle">10</text><text x="312.6" y="175.7" text-anchor="end">-5</text><text x="312.6" y="158.93" text-anchor="end">-4</text><text x="312.6" y="142.17" text-anchor="end">-3</text><text x="312.6" y="125.4" text-anchor="end">-2</text><text x="312.6" y="108.63" text-anchor="end">-1</text><text x="312.6" y="91.87" text-anchor="end">0</text><text x="312.6" y="75.1" text-anchor="end">1</text><text x="312.6" y="58.33" text-anchor="end">2</text><text x="312.6" y="41.57" text-anchor="end">3</text><text x="312.6" y="24.8" text-anchor="end">4</text></g>
<path d="M316.4 50.9V163.2" stroke="#3f9edb" stroke-width="1.1" fill="none"/>
<text class="tt" font-size="11.2" x="327.2" y="15.3" textLength="198.8" lengthAdjust="spacingAndGlyphs">After adjusting frequency (Bottom point)</text>
<text class="lb" font-size="12.6" transform="translate(301.8 96.4) rotate(-90) scale(1.024 1)" text-anchor="middle">Acceleration [ m/s<tspan font-size="7.9" dy="-4.2">2</tspan><tspan dy="4.2">]</tspan></text>
<text class="lb" font-size="12.6" transform="translate(431.3 201.4) scale(0.986 1)" text-anchor="middle">Time [sec]</text>
<text class="cap" x="266.2" y="225.7" textLength="14.2" lengthAdjust="spacingAndGlyphs">(<tspan font-weight="bold">a</tspan>)</text>
<path class="spec" stroke-width="0.6" d="M41.5 400.7 41.65 400.7 41.8 400.7 41.96 400.7 42.11 399 42.26 401.7 42.41 404.4 42.56 405.7 42.72 407.1 42.87 405.5 43.02 405.3 43.17 407.9 43.32 398.8 43.47 406.2 43.63 403.9 43.78 408.1 43.93 403.9 44.08 403.1 44.23 408 44.39 397.3 44.54 407.1 44.69 406.3 44.84 402.5 44.99 405.8 45.15 400.7 45.3 406.6 45.45 406.1 45.6 403.1 45.75 401.2 45.91 400.9 46.06 406.3 46.21 404.6 46.36 405.5 46.51 403.5 46.66 406.9 46.82 401.9 46.97 403.3 47.12 407.3 47.27 406.3 47.42 406.2 47.58 400.4 47.73 405.4 47.88 404.3 48.03 400.5 48.18 405.8 48.34 400.2 48.49 406.6 48.64 409.3 48.79 408.1 48.94 403.8 49.1 406 49.25 402.5 49.4 405.1 49.55 404 49.7 406.3 49.85 404.8 50.01 403.9 50.16 406.2 50.31 405.4 50.46 402.5 50.61 401.1 50.77 406.4 50.92 408.5 51.07 402.7 51.22 403.8 51.37 400 51.53 403.6 51.68 406.3 51.83 402.6 51.98 405.2 52.13 404 52.28 402.2 52.44 405 52.59 401 52.74 406.2 52.89 406.3 53.04 404.7 53.2 406.2 53.35 404.2 53.5 405.4 53.65 403.9 53.8 403.1 53.96 405.2 54.11 401.9 54.26 403.6 54.41 402.8 54.56 409.2 54.72 409.3 54.87 404.8 55.02 406.7 55.17 402.7 55.32 406.4 55.47 404 55.63 407.2 55.78 404.9 55.93 402.3 56.08 402.9 56.23 406.5 56.39 405.9 56.54 404.5 56.69 402.4 56.84 398.6 56.99 392.8 57.15 392.8 57.3 392.8 57.45 392.8 57.6 392.8 57.75 392.8 57.91 393.7 58.06 399.7 58.21 402.6 58.36 404.9 58.51 402 58.66 400.2 58.82 407.3 58.97 405 59.12 408.3 59.27 405.2 59.42 404.5 59.58 404.2 59.73 403.1 59.88 405.6 60.03 408.2 60.18 403.6 60.34 409.1 60.49 407.4 60.64 407.4 60.79 404 60.94 406.2 61.1 403.4 61.25 402.3 61.4 403.3 61.55 403.9 61.7 402.9 61.85 407.2 62.01 406.7 62.16 405.1 62.31 405.4 62.46 404 62.61 403.7 62.77 404.7 62.92 403.3 63.07 401.2 63.22 398 63.37 392.6 63.53 383.1 63.68 377.3 63.83 377.3 63.98 377.3 64.13 377.3 64.29 377.3 64.44 377.3 64.59 385.5 64.74 393.9 64.89 398.7 65.04 401.7 65.2 403.3 65.35 403 65.5 405.9 65.65 406.6 65.8 407.1 65.96 404.8 66.11 406.4 66.26 405.5 66.41 404.4 66.56 404.9 66.72 403.2 66.87 408.5 67.02 407.1 67.17 409 67.32 405.8 67.48 405.2 67.63 407.3 67.78 408.1 67.93 406.1 68.08 407.4 68.23 407.4 68.39 406.6 68.54 401.8 68.69 406.7 68.84 404.6 68.99 406.6 69.15 406.5 69.3 408 69.45 407.7 69.6 404.1 69.75 406.3 69.91 407.1 70.06 400 70.21 403 70.36 407.3 70.51 406.3 70.67 405.5 70.82 407.9 70.97 406.3 71.12 407.1 71.27 403.8 71.42 408.4 71.58 399.6 71.73 407.4 71.88 406.9 72.03 408.1 72.18 402.5 72.34 403.6 72.49 405.7 72.64 403.8 72.79 400.3 72.94 399 73.1 399 73.25 399 73.4 399 73.55 399 73.7 399 73.85 402.2 74.01 404.8 74.16 405.8 74.31 403.8 74.46 405.2 74.61 408.3 74.77 408.6 74.92 401 75.07 407.3 75.22 406.7 75.37 407.4 75.53 405.1 75.68 400.3 75.83 406.5 75.98 406.9 76.13 406.8 76.29 409.1 76.44 408.4 76.59 408.8 76.74 406.9 76.89 400.2 77.04 408 77.2 405.7 77.35 407.6 77.5 409 77.65 403.5 77.8 408.1 77.96 408.1 78.11 403.7 78.26 407.4 78.41 406.5 78.56 401.8 78.72 407.7 78.87 403.5 79.02 407 79.17 405.6 79.32 405.5 79.48 403 79.63 401.9 79.78 401.9 79.93 401.9 80.08 401.9 80.23 401.9 80.39 401.9 80.54 404.3 80.69 405 80.84 404.5 80.99 404.3 81.15 404.1 81.3 406.5 81.45 407.8 81.6 409.1 81.75 406.3 81.91 402.1 82.06 406.2 82.21 405.2 82.36 402.4 82.51 403.2 82.67 404.4 82.82 405.4 82.97 407.4 83.12 404.3 83.27 406.4 83.42 404.6 83.58 407.5 83.73 401.9 83.88 407.9 84.03 403.9 84.18 402.8 84.34 408 84.49 403.1 84.64 405 84.79 405.3 84.94 407.3 85.1 406.9 85.25 407.4 85.4 406.2 85.55 405 85.7 404.4 85.86 404.6 86.01 406.8 86.16 406.8 86.31 404.1 86.46 400.8 86.61 407.5 86.77 406.4 86.92 407.2 87.07 400.7 87.22 409.3 87.37 402.7 87.53 404.1 87.68 406.9 87.83 404.8 87.98 405 88.13 405.1 88.29 406.3 88.44 402.4 88.59 404.3 88.74 403.7 88.89 404.3 89.05 404.3 89.2 401 89.35 404.3 89.5 402.5 89.65 400.3 89.8 403.3 89.96 405.2 90.11 405.1 90.26 402.1 90.41 406.3 90.56 403.5 90.72 404 90.87 403.2 91.02 406.2 91.17 404.9 91.32 408.4 91.48 408.6 91.63 408.3 91.78 404.3 91.93 406.7 92.08 402.4 92.24 408.5 92.39 407.8 92.54 403.4 92.69 406.3 92.84 407.5 92.99 403.9 93.15 407.4 93.3 400.7 93.45 407.1 93.6 403.1 93.75 406 93.91 401.9 94.06 407 94.21 402.1 94.36 407 94.51 406.2 94.67 405 94.82 405.5 94.97 404.8 95.12 404.6 95.27 407.2 95.42 409.4 95.58 404.4 95.73 405.2 95.88 405.5 96.03 405.9 96.18 402 96.34 407 96.49 402.3 96.64 407.8 96.79 404.6 96.94 401.7 97.1 407.9 97.25 404 97.4 407.1 97.55 408.7 97.7 406.2 97.86 404.5 98.01 407.1 98.16 401.4 98.31 409.7 98.46 407.2 98.61 406.7 98.77 406.6 98.92 407 99.07 409.2 99.22 407.5 99.37 405.8 99.53 404.7 99.68 406.5 99.83 404.3 99.98 406.1 100.13 406.7 100.29 407.8 100.44 407.4 100.59 402.4 100.74 406 100.89 406.9 101.05 407.4 101.2 402.7 101.35 404.4 101.5 404.5 101.65 403.6 101.8 407.3 101.96 404.2 102.11 408.5 102.26 404.7 102.41 406.8 102.56 404.7 102.72 407.4 102.87 406.6 103.02 404.7 103.17 401.6 103.32 406.7 103.48 407.8 103.63 408.1 103.78 402 103.93 402.4 104.08 409.2 104.24 406.6 104.39 407.7 104.54 401.1 104.69 407.1 104.84 408.6 104.99 403.8 105.15 397.1 105.3 403.8 105.45 405.2 105.6 405.2 105.75 405.2 105.91 402.3 106.06 403.9 106.21 408.6 106.36 406 106.51 403.7 106.67 405.4 106.82 404.6 106.97 400.6 107.12 400 107.27 403.1 107.43 405.2 107.58 406.8 107.73 407.8 107.88 407.7 108.03 404.8 108.18 403.7 108.34 402.8 108.49 402 108.64 406.9 108.79 406.7 108.94 407.5 109.1 405.4 109.25 401.2 109.4 403.8 109.55 406 109.7 407.8 109.86 403 110.01 402.2 110.16 400.6 110.31 406.9 110.46 406.3 110.62 405.1 110.77 401.8 110.92 407.2 111.07 406.1 111.22 408.6 111.37 409.6 111.53 407.2 111.68 403.3 111.83 404.4 111.98 405.8 112.13 406.2 112.29 407 112.44 403.7 112.59 403.6 112.74 405.3 112.89 404.8 113.05 398.5 113.2 407.7 113.35 397.6 113.5 408.2 113.65 406.8 113.81 399.9 113.96 400.1 114.11 407.6 114.26 404 114.41 404.8 114.56 406.2 114.72 403.5 114.87 404.7 115.02 407.3 115.17 405.6 115.32 404.1 115.48 404.8 115.63 405.3 115.78 403.9 115.93 407.9 116.08 408.8 116.24 408.9 116.39 404.8 116.54 406 116.69 402.9 116.84 400 116.99 408.1 117.15 406.3 117.3 406 117.45 405.2 117.6 401.8 117.75 404.9 117.91 406.7 118.06 404.4 118.21 406.6 118.36 405.2 118.51 408.2 118.67 405.1 118.82 405.6 118.97 404.5 119.12 405.1 119.27 405 119.43 403.8 119.58 407.9 119.73 403.7 119.88 404.7 120.03 404.2 120.18 406.1 120.34 408.3 120.49 401.4 120.64 402.9 120.79 399.7 120.94 405.7 121.1 402.1 121.25 402.3 121.4 405.1 121.55 401.8 121.7 403 121.86 408.1 122.01 407.9 122.16 406 122.31 405.2 122.46 404.4 122.62 405 122.77 402.2 122.92 403.1 123.07 408.1 123.22 406.5 123.37 402 123.53 403.5 123.68 409.2 123.83 404.6 123.98 407.9 124.13 405.4 124.29 397.8 124.44 408.4 124.59 402.8 124.74 405.5 124.89 399.4 125.05 402.4 125.2 408.5 125.35 404.4 125.5 402.3 125.65 406.8 125.81 403.9 125.96 407 126.11 407.3 126.26 406.5 126.41 406.7 126.56 400.1 126.72 407.1 126.87 405.9 127.02 405.5 127.17 404 127.32 399.8 127.48 404.6 127.63 402.3 127.78 407.9 127.93 404.3 128.08 406.4 128.24 402.1 128.39 404.7 128.54 407.8 128.69 402.4 128.84 405.2 129 405.5 129.15 408.3 129.3 401.5 129.45 405.3 129.6 402.2 129.75 407.6 129.91 404.1 130.06 406.2 130.21 405.1 130.36 404.5 130.51 402.7 130.67 401.2 130.82 407.6 130.97 402.3 131.12 408 131.27 409.3 131.43 406.6 131.58 406.7 131.73 403.3 131.88 405 132.03 406.1 132.19 403.1 132.34 400.9 132.49 404.4 132.64 404.3 132.79 402.2 132.94 406.7 133.1 397.2 133.25 407.5 133.4 408.7 133.55 402.7 133.7 407.5 133.86 406.4 134.01 405.3 134.16 408 134.31 405.8 134.46 406.3 134.62 408.3 134.77 404.7 134.92 405.7 135.07 407.6 135.22 403.1 135.37 405.9 135.53 409 135.68 402 135.83 405.9 135.98 408.2 136.13 406.7 136.29 406.9 136.44 408.7 136.59 406.4 136.74 407.2 136.89 403.6 137.05 403.1 137.2 403.1 137.35 403.1 137.5 406.9 137.65 406.7 137.81 407.6 137.96 404.7 138.11 402 138.26 402.6 138.41 405.5 138.56 403.1 138.72 403.1 138.87 404.4 139.02 402.9 139.17 406.1 139.32 403.5 139.48 405.2 139.63 403.6 139.78 403.6 139.93 407 140.08 402.6 140.24 406.8 140.39 405.8 140.54 404.7 140.69 402.7 140.84 408.6 141 401.3 141.15 406.4 141.3 408.8 141.45 406.4 141.6 404.4 141.75 408.3 141.91 402.4 142.06 408.8 142.21 407.1 142.36 406.5 142.51 408.5 142.67 401.1 142.82 399.9 142.97 401.6 143.12 407.3 143.27 402.6 143.43 406.4 143.58 406.7 143.73 404 143.88 408.3 144.03 409.5 144.19 401 144.34 406.3 144.49 403.1 144.64 405.9 144.79 408.2 144.94 405.6 145.1 407.6 145.25 408.3 145.4 409.2 145.55 406 145.7 405.5 145.86 406.4 146.01 400.2 146.16 402.7 146.31 403.9 146.46 407 146.62 403.6 146.77 404 146.92 405.2 147.07 407.1 147.22 407.3 147.38 405.9 147.53 406.8 147.68 402 147.83 405.6 147.98 404.2 148.13 401.8 148.29 404.6 148.44 407.7 148.59 406.6 148.74 401.3 148.89 408.7 149.05 407.2 149.2 404.6 149.35 402.5 149.5 402.9 149.65 403.8 149.81 404 149.96 406.2 150.11 408.6 150.26 404.5 150.41 408.4 150.57 403.2 150.72 407.9 150.87 409.1 151.02 396.1 151.17 407.6 151.32 404.9 151.48 408.6 151.63 399.4 151.78 409.2 151.93 404.2 152.08 402.7 152.24 406.8 152.39 409.4 152.54 408.9 152.69 408.6 152.84 403.6 153 405.2 153.15 401.9 153.3 404.6 153.45 402.4 153.6 407.4 153.76 407.2 153.91 399.6 154.06 400.7 154.21 405.9 154.36 403.3 154.51 404 154.67 406.9 154.82 407.4 154.97 403.7 155.12 400.4 155.27 399.3 155.43 406.4 155.58 408.5 155.73 406.7 155.88 408.5 156.03 399 156.19 406.7 156.34 402.7 156.49 407.1 156.64 400.5 156.79 405.6 156.94 402.9 157.1 404.9 157.25 403.6 157.4 408.5 157.55 408.3 157.7 406.4 157.86 402.4 158.01 401.9 158.16 404.1 158.31 404.9 158.46 408.7 158.62 401.5 158.77 404.5 158.92 404.8 159.07 402.9 159.22 407.2 159.38 404.8 159.53 404.4 159.68 403.8 159.83 408.3 159.98 404 160.13 402 160.29 404.8 160.44 407.7 160.59 401.8 160.74 408.2 160.89 407.3 161.05 402.8 161.2 405.1 161.35 406.6 161.5 403.4 161.65 404.7 161.81 408.1 161.96 407.3 162.11 403.3 162.26 403.3 162.41 408.5 162.57 405.5 162.72 404.2 162.87 406.7 163.02 408.6 163.17 406.2 163.32 401.5 163.48 404.1 163.63 407.4 163.78 403 163.93 404.6 164.08 406.9 164.24 407.1 164.39 407.7 164.54 406.2 164.69 406.5 164.84 407 165 402.6 165.15 403.9 165.3 405.7 165.45 400.8 165.6 404.6 165.76 401.1 165.91 403.2 166.06 404.8 166.21 404.4 166.36 403.8 166.51 400.9 166.67 402.7 166.82 406.7 166.97 406.5 167.12 407.2 167.27 401.9 167.43 402.2 167.58 406.1 167.73 406.3 167.88 408 168.03 400.3 168.19 404.6 168.34 400.8 168.49 404.9 168.64 405.7 168.79 404 168.95 402.4 169.1 398.6 169.25 398.6 169.4 398.6 169.55 401.4 169.7 405.7 169.86 403.6 170.01 405.6 170.16 403.3 170.31 408.6 170.46 409.4 170.62 408.4 170.77 406.2 170.92 406.6 171.07 401.1 171.22 398.2 171.38 408 171.53 403.3 171.68 405.7 171.83 403.2 171.98 406.6 172.14 403.9 172.29 409.6 172.44 406 172.59 406.8 172.74 407.3 172.89 407 173.05 406.3 173.2 405.9 173.35 405.7 173.5 404.3 173.65 403.5 173.81 401.2 173.96 404.8 174.11 407.3 174.26 405.4 174.41 406.2 174.57 407.4 174.72 406.9 174.87 407.5 175.02 405.7 175.17 404.8 175.33 404.8 175.48 404.8 175.63 405.3 175.78 407.2 175.93 401 176.08 405.5 176.24 408.1 176.39 405.6 176.54 404.8 176.69 408.1 176.84 406.6 177 407.6 177.15 405.8 177.3 403.9 177.45 407.5 177.6 408.1 177.76 408.1 177.91 405.5 178.06 408.7 178.21 406 178.36 404.2 178.51 404.5 178.67 405.2 178.82 409.4 178.97 406.6 179.12 407.6 179.27 406.2 179.43 408.2 179.58 408.3 179.73 402.5 179.88 403.7 180.03 408.6 180.19 404.4 180.34 408.8 180.49 407.2 180.64 400.7 180.79 403.1 180.95 406.7 181.1 405.5 181.25 407.1 181.4 404.5 181.55 407.5 181.7 408 181.86 408.4 182.01 404.2 182.16 406.5 182.31 404.2 182.46 408.4 182.62 405.2 182.77 403.7 182.92 405.7 183.07 408.6 183.22 408.4 183.38 408.8 183.53 407.7 183.68 405.8 183.83 408.5 183.98 407.3 184.14 409.2 184.29 406.4 184.44 408.8 184.59 405.8 184.74 406.8 184.89 407.6 185.05 406.4 185.2 407.8 185.35 407.2 185.5 407.1 185.65 408.2 185.81 407.7 185.96 406.2 186.11 405.7 186.26 405.8 186.41 407.2 186.57 405.7 186.72 408.8 186.87 404.1 187.02 409.3 187.17 405.6 187.33 406.4 187.48 407.9 187.63 406.4 187.78 405 187.93 408.7 188.08 407.1 188.24 409.7 188.39 407.1 188.54 409.2 188.69 407.1 188.84 409.5 189 408 189.15 406.1 189.3 408.3 189.45 404.9 189.6 407.7 189.76 408.7 189.91 405.4 190.06 408.8 190.21 407.3 190.36 405.3 190.52 405.3 190.67 407.4 190.82 408.5 190.97 407.6 191.12 408.2 191.27 408.2 191.43 408.1 191.58 408.5 191.73 409 191.88 406.4 192.03 409.6 192.19 407.1 192.34 407.9 192.49 406.8 192.64 407 192.79 407.4 192.95 406.1 193.1 407 193.25 405.1 193.4 406.9 193.55 405.2 193.71 405.2 193.86 406.2 194.01 407.8 194.16 407.1 194.31 408.9 194.46 405.9 194.62 406.3 194.77 405.2 194.92 408.8 195.07 408.5 195.22 406.1 195.38 405.6 195.53 408.8 195.68 409.2 195.83 407.5 195.98 407.4 196.14 409 196.29 408.6 196.44 408 196.59 409.2 196.74 408.2 196.89 409.1 197.05 407 197.2 404.9 197.35 405.4 197.5 405.7 197.65 406.4 197.81 407.9 197.96 408.9 198.11 407.9 198.26 402.1 198.41 404 198.57 405.7 198.72 405.4 198.87 404.4 199.02 403.7 199.17 407.4 199.33 403.8 199.48 404.9 199.63 407.1 199.78 407 199.93 407.8 200.08 405.5 200.24 400.6 200.39 403.6 200.54 407.7 200.69 408.1 200.84 406.9 201 404 201.15 402 201.3 402 201.45 402 201.6 405.1 201.76 406.6 201.91 399 202.06 404.8 202.21 407.8 202.36 403.2 202.52 406.7 202.67 403.5 202.82 406.7 202.97 405.3 203.12 406.5 203.27 406.4 203.43 407.6 203.58 399.8 203.73 407.2 203.88 406.6 204.03 405.7 204.19 406.8 204.34 405.5 204.49 405.7 204.64 404.5 204.79 404.8 204.95 405.9 205.1 403.7 205.25 403 205.4 406.6 205.55 406.8 205.71 404 205.86 405.5 206.01 401.9 206.16 409.3 206.31 404.6 206.46 405.9 206.62 406.9 206.77 401.2 206.92 406.9 207.07 402.2 207.22 401.4 207.38 398.5 207.53 407.7 207.68 407.3 207.83 406 207.98 406 208.14 400.2 208.29 403.5 208.44 407.3 208.59 407.8 208.74 402.4 208.9 403.6 209.05 409.6 209.2 403.9 209.35 407 209.5 406.1 209.65 407.8 209.81 395.9 209.96 404.8 210.11 403.5 210.26 406.8 210.41 405.4 210.57 403.2 210.72 402.2 210.87 399.8 211.02 406.4 211.17 406.4 211.33 405.1 211.48 405.9 211.63 401.2 211.78 405.4 211.93 405.3 212.09 404.3 212.24 403.8 212.39 405.5 212.54 409.3 212.69 402.1 212.84 407.5 213 400.5 213.15 406.3 213.3 406.2 213.45 403.9 213.6 399.4 213.76 405.2 213.91 404.4 214.06 404.9 214.21 407.5 214.36 405.9 214.52 399 214.67 398.3 214.82 406.1 214.97 398.9 215.12 409 215.28 402.1 215.43 408.8 215.58 404.7 215.73 404.8 215.88 404.6 216.03 398.1 216.19 405.3 216.34 405.6 216.49 405.6 216.64 401.6 216.79 407.3 216.95 408.2 217.1 406.6 217.25 396.2 217.4 404.5 217.55 407.1 217.71 402.6 217.86 405 218.01 403.6 218.16 393.5 218.31 402.1 218.46 403.7 218.62 392.4 218.77 404 218.92 404.4 219.07 400.1 219.22 397.3 219.38 401.9 219.53 405.1 219.68 404.8 219.83 409.2 219.98 406.2 220.14 401.2 220.29 404.1 220.44 400 220.59 402.4 220.74 403.4 220.9 396.3 221.05 404 221.2 402.5 221.35 404.1 221.5 405.2 221.65 401.4 221.81 408 221.96 396.2 222.11 397.2 222.26 400.5 222.41 404.3 222.57 404.5 222.72 404.9 222.87 404.4 223.02 406.4 223.17 401 223.33 399.7 223.48 404.1 223.63 400.2 223.78 405.8 223.93 400.1 224.09 396.7 224.24 402.6 224.39 397.3 224.54 402 224.69 402.4 224.84 404.4 225 408.2 225.15 407.4 225.3 400.8 225.45 406.8 225.6 402.5 225.76 407 225.91 401.8 226.06 397.9 226.21 403.2 226.36 408.5 226.52 402 226.67 404.4 226.82 400.3 226.97 407.2 227.12 406 227.28 399.2 227.43 400.9 227.58 399.5 227.73 404.2 227.88 402.8 228.03 399 228.19 403 228.34 407.9 228.49 407.2 228.64 409.6 228.79 407.6 228.95 408.8 229.1 405.3 229.25 403.5 229.4 400.7 229.55 405.2 229.71 407.2 229.86 399.9 230.01 399.7 230.16 397.4 230.31 408.9 230.47 403.8 230.62 403.5 230.77 404.3 230.92 407 231.07 399.8 231.22 404.3 231.38 408.7 231.53 405.8 231.68 402.7 231.83 406.9 231.98 402.3 232.14 406.9 232.29 405.2 232.44 406.3 232.59 407.6 232.74 400.9 232.9 405.3 233.05 402.7 233.2 400.8 233.35 406.4 233.5 408.4 233.66 404.7 233.81 406.8 233.96 401.2 234.11 407.3 234.26 403.1 234.41 408.9 234.57 406.5 234.72 407.1 234.87 401.7 235.02 404.2 235.17 403.8 235.33 408.2 235.48 406.3 235.63 401.2 235.78 404.2 235.93 403 236.09 405.1 236.24 407.1 236.39 400.9 236.54 406.7 236.69 407.4 236.85 404 237 408.2 237.15 403.1 237.3 403.6 237.45 406 237.6 405.1 237.76 405.3 237.91 408.3 238.06 408.3 238.21 406.2 238.36 409.4 238.52 407.4 238.67 406.2 238.82 404.4 238.97 405.2 239.12 407.5 239.28 403.4 239.43 403 239.58 404.2 239.73 404 239.88 407 240.03 402.6 240.19 404.8 240.34 407.5 240.49 404.1 240.64 404.6 240.79 405 240.95 403.5 241.1 403.5 241.25 403.8 241.4 404.9 241.55 408.5 241.71 407.2 241.86 399.6 242.01 406.1 242.16 404.6 242.31 407.9 242.47 405.1 242.62 404.8 242.77 400.5 242.92 400.2 243.07 405.8 243.22 406.7 243.38 407.7 243.53 406.6 243.68 406 243.83 400.5 243.98 405.6 244.14 404.5 244.29 404 244.44 409.3 244.59 407.3 244.74 405.4 244.9 408.7 245.05 407.8 245.2 403.9 245.35 404.5 245.5 407.9 245.66 408.1 245.81 403 245.96 405.9 246.11 406.8 246.26 404.2 246.41 404.6 246.57 398.6 246.72 408.2 246.87 403.9 247.02 406 247.17 407.2 247.33 405.8 247.48 409.2 247.63 408.1 247.78 408.2 247.93 404.5 248.09 404.4 248.24 407.3 248.39 406.9 248.54 403.9 248.69 406.5 248.85 406.7 249 401.5 249.15 405.6 249.3 405.6 249.45 405.1 249.6 408.9 249.76 406.4 249.91 403.8 250.06 404.9 250.21 402.7 250.36 406.9 250.52 406 250.67 407.4 250.82 407.7 250.97 408.4 251.12 407.6 251.28 407.8 251.43 406.2 251.58 406.4 251.73 404.1 251.88 404 252.04 405.6 252.19 404.9 252.34 406.1 252.49 407 252.64 405.9 252.79 405.1 252.95 401.4 253.1 403.6 253.25 408.6 253.4 402.6 253.55 408.4 253.71 405.2 253.86 403.3 254.01 402 254.16 408.2 254.31 406.3 254.47 407.7 254.62 404.9 254.77 404.6 254.92 404.4 255.07 406.7 255.23 405.3 255.38 407.6 255.53 402.1 255.68 401.9 255.83 409.1 255.98 405.6 256.14 404.5 256.29 407.5 256.44 409 256.59 409.7 256.74 404.6 256.9 409.4 257.05 406.6 257.2 403.9 257.35 408.8 257.5 404.6 257.66 406.3 257.81 406.6 257.96 406 258.11 406.8 258.26 403.2 258.42 404.9 258.57 406.6 258.72 407.4 258.87 405.9 259.02 397.8 259.17 402.8 259.33 408.6 259.48 406.8 259.63 406.1 259.78 406.5 259.93 408.3 260.09 407.7 260.24 405.7 260.39 404.5 260.54 404.6 260.69 404.9 260.85 404.9 261 409.5 261.15 407.5 261.3 406.9 261.45 407.3 261.6 406.6 261.76 406.5 261.91 406.8 262.06 409.4 262.21 403.2 262.36 401.5 262.52 405.3 262.67 407.2 262.82 406.2 262.97 402.5 263.12 403.1 263.28 404.7 263.43 404.7 263.58 400.5 263.73 405 263.88 408.3 264.04 405.9 264.19 402.3 264.34 408.1 264.49 408.8 264.64 408.8 264.79 408.6 264.95 407.9 265.1 401.3 265.25 405.4 265.4 404.5 265.55 405.6 265.71 406.8 265.86 404 266.01 407.9 266.16 406.7 266.31 406.4 266.47 404.9 266.62 404.2 266.77 405.6 266.92 405.3 267.07 407.2 267.23 405.4 267.38 403.5 267.53 406.3 267.68 404.3 267.83 405.9 267.98 405.9 268.14 405.3 268.29 408.1 268.44 407.6 268.59 407.8 268.74 405.8 268.9 404.9 269.05 404.7 269.2 407.6"/>
<path class="pk" d="M41.73 405.6V368.1M57.43 407.1V332.1M64.04 407.2V261.8M73.29 407.2V360.4M79.97 407.2V373.7M89.14 407.2V384.6M47.57 406.6V394.2M52.13 406.9V395.8M68.06 407.2V398.4M96.15 407.1V398.4M105.64 407.1V388.5M112.85 407V389M121.19 406.9V398.4M129.54 406.8V399.5M137.13 406.8V379.1M140.17 406.8V395.8M153.22 406.9V388.5M169.24 407.1V358.4M175.39 407.2V386.9M184.95 408.1V399.5M197.32 407.5V399.5M201.27 406.9V373.9M208.02 406.4V392.1M211.52 406.1V394.2M216.37 405.9V390.6M221.38 405.9V395.3M227.38 406.1V395.5M233.07 406.4V389M240.97 406.9V397.1M251.89 407.2V390.6M258.57 407.2V398.4M266.77 407.2V395.5"/>
<g stroke="#5a5a5a" stroke-width="0.7" fill="none"><rect x="41.5" y="253.2" width="227.7" height="156.7"/><path d="M41.5 409.9v-2.2M41.5 253.2v2.2M79.45 409.9v-2.2M79.45 253.2v2.2M117.4 409.9v-2.2M117.4 253.2v2.2M155.35 409.9v-2.2M155.35 253.2v2.2M193.3 409.9v-2.2M193.3 253.2v2.2M231.25 409.9v-2.2M231.25 253.2v2.2M269.2 409.9v-2.2M269.2 253.2v2.2M41.5 409.9h2.2M269.2 409.9h-2.2M41.5 383.78h2.2M269.2 383.78h-2.2M41.5 357.67h2.2M269.2 357.67h-2.2M41.5 331.55h2.2M269.2 331.55h-2.2M41.5 305.43h2.2M269.2 305.43h-2.2M41.5 279.32h2.2M269.2 279.32h-2.2M41.5 253.2h2.2M269.2 253.2h-2.2"/></g>
<g class="tk"><text x="41.5" y="419.2" text-anchor="middle">0</text><text x="79.45" y="419.2" text-anchor="middle">50</text><text x="117.4" y="419.2" text-anchor="middle">100</text><text x="155.35" y="419.2" text-anchor="middle">150</text><text x="193.3" y="419.2" text-anchor="middle">200</text><text x="231.25" y="419.2" text-anchor="middle">250</text><text x="269.2" y="419.2" text-anchor="middle">300</text><text x="37.9" y="412.6" text-anchor="end">0</text><text x="37.9" y="386.48" text-anchor="end">0.05</text><text x="37.9" y="360.37" text-anchor="end">0.1</text><text x="37.9" y="334.25" text-anchor="end">0.15</text><text x="37.9" y="308.13" text-anchor="end">0.2</text><text x="37.9" y="282.02" text-anchor="end">0.25</text><text x="37.9" y="255.9" text-anchor="end">0.3</text></g>
<text class="tt" font-size="11.2" x="68.3" y="243.2" textLength="178.5" lengthAdjust="spacingAndGlyphs">Before adjusting frequency (Bottom)</text>
<text class="lb" font-size="12.8" transform="translate(18.6 328.85) rotate(-90) scale(0.970 1)" text-anchor="middle">Power Spectrum [ m/s<tspan font-size="8.1" dy="-4.2">2</tspan><tspan dy="4.2">]</tspan></text>
<text class="lb" font-size="12.8" transform="translate(169.9 435.1) scale(0.959 1)" text-anchor="middle">Frequency [Hz]</text>
<g class="tip" font-size="6.8"><rect x="67.2" y="264.3" width="34.3" height="20.1"/><text x="69.3" y="273.2">X: 29.7</text><text x="69.3" y="281.6">Y: 0.2835</text></g>
<g class="tip" font-size="6.8"><rect x="61.9" y="308.6" width="29.4" height="19.4"/><text x="64" y="317.6">X: 20.99</text><text x="64" y="325.8">Y: 0.149</text></g>
<g class="tip" font-size="6.8"><rect x="77.6" y="337" width="37.4" height="20"/><text x="79.7" y="346">X: 41.88</text><text x="79.7" y="354.3">Y: 0.09485</text></g>
<g class="tip" font-size="6.8"><rect x="93.5" y="361.3" width="36.1" height="19.3"/><text x="95.6" y="370.2">X: 62.77</text><text x="95.6" y="378.4">Y: 0.04841</text></g>
<g class="tip" font-size="6.8"><rect x="38.2" y="377.8" width="37.7" height="18.5"/><text x="40.3" y="386.2">X: 50.69</text><text x="40.3" y="394.2">Y: 0.06928</text></g>
<rect class="mk" x="61.74" y="259.72" width="4.6" height="4.2"/>
<rect class="mk" x="55.13" y="329.97" width="4.6" height="4.2"/>
<rect class="mk" x="70.99" y="358.26" width="4.6" height="4.2"/>
<rect class="mk" x="77.67" y="371.61" width="4.6" height="4.2"/>
<rect class="mk" x="86.84" y="382.51" width="4.6" height="4.2"/>
<path class="spec" stroke-width="0.5" d="M332.8 395.3 332.89 387.9 332.97 396.6 333.06 388.1 333.15 390 333.23 398.5 333.32 389.8 333.41 403.7 333.49 399.9 333.58 384.2 333.67 395.7 333.75 392.1 333.84 390.3 333.93 402.1 334.01 395.2 334.1 401.2 334.19 405.5 334.27 404.8 334.36 404.7 334.45 399.3 334.53 399.5 334.62 396.8 334.71 403.2 334.79 398.7 334.88 403.7 334.97 403.4 335.05 400.5 335.14 403 335.23 391.1 335.31 403.8 335.4 404.5 335.49 398.5 335.57 398.8 335.66 405.3 335.75 404 335.83 402.8 335.92 405.6 336.01 403.9 336.09 400.9 336.18 401 336.27 405.6 336.35 404.6 336.44 404.8 336.53 402.1 336.61 405.9 336.7 397 336.79 406.1 336.87 403.4 336.96 402.2 337.05 399.1 337.13 403 337.22 400.9 337.31 403.6 337.39 405.4 337.48 404.3 337.57 403.2 337.65 403.7 337.74 402 337.83 403.7 337.91 404.6 338 403.9 338.09 403.9 338.17 407.4 338.26 405 338.35 403.7 338.43 402.8 338.52 404.5 338.61 402.6 338.69 404.2 338.78 404.9 338.87 405.6 338.95 402.4 339.04 400.9 339.13 402.9 339.21 405.7 339.3 400.8 339.39 404.3 339.47 401.1 339.56 407.6 339.65 402.8 339.73 404.6 339.82 402.1 339.91 403.9 339.99 407.5 340.08 403.4 340.17 404.3 340.25 405.8 340.34 406.4 340.43 405 340.51 404.2 340.6 404.7 340.69 407.4 340.77 406.3 340.86 403.7 340.95 404.4 341.03 403.3 341.12 405 341.21 405.8 341.29 403 341.38 406 341.47 406.9 341.55 405.3 341.64 404.9 341.73 406 341.81 401.2 341.9 406 341.99 406.5 342.07 404 342.16 406.4 342.25 405.8 342.33 405.2 342.42 405.8 342.51 404.1 342.59 406.5 342.68 404.1 342.77 406.6 342.85 404.5 342.94 400.7 343.03 403.4 343.11 401.7 343.2 404.7 343.29 406.4 343.37 405.4 343.46 403.5 343.55 406.5 343.63 404.2 343.72 405.7 343.81 402.3 343.89 405.6 343.98 405.7 344.07 405.9 344.15 404.8 344.24 401.8 344.33 404.8 344.41 403.8 344.5 403.7 344.59 402.8 344.67 401.5 344.76 399.8 344.85 397.3 344.93 393.5 345.02 393.2 345.11 393.2 345.19 393.2 345.28 393.2 345.37 393.2 345.45 393.2 345.54 393.2 345.63 393.2 345.71 393.2 345.8 394.4 345.89 397.9 345.97 400.2 346.06 401.8 346.15 403 346.23 403.9 346.32 403.3 346.41 403.8 346.49 403.4 346.58 405.8 346.67 398.8 346.75 404.8 346.84 404.7 346.93 403 347.01 406 347.1 405.9 347.19 403.1 347.27 404.7 347.36 402 347.45 406.3 347.53 404.8 347.62 404.8 347.71 407.3 347.79 404.6 347.88 405.6 347.97 405.4 348.05 406.4 348.14 404.8 348.23 404.5 348.31 403 348.4 403.5 348.49 401.5 348.57 401.7 348.66 404.3 348.75 406 348.83 405.1 348.92 406.9 349.01 405 349.09 406 349.18 405.1 349.27 404.1 349.35 407.1 349.44 403.3 349.53 407.3 349.61 405.3 349.7 406.3 349.79 407.3 349.87 405.3 349.96 406.1 350.05 407 350.13 403.7 350.22 406.2 350.31 402.6 350.39 404.8 350.48 405.8 350.57 407.1 350.65 401.3 350.74 406.8 350.83 404 350.91 405.2 351 405.4 351.09 407 351.17 405.6 351.26 407.5 351.35 404.1 351.43 404.4 351.52 406.1 351.61 405.2 351.69 406.5 351.78 404.4 351.87 406.5 351.95 406.5 352.04 406.1 352.13 402 352.21 403.8 352.3 405.7 352.39 404 352.47 405.8 352.56 405.6 352.65 403.2 352.73 401.9 352.82 400.7 352.91 400.7 352.99 400.7 353.08 400.7 353.17 400.7 353.25 403.6 353.34 405.2 353.43 406.1 353.51 405.7 353.6 405.7 353.69 405.7 353.77 406.9 353.86 406.2 353.95 406.1 354.03 404.7 354.12 404.5 354.21 404.3 354.29 403.2 354.38 400.7 354.47 395.5 354.55 393 354.64 393 354.73 393 354.81 393 354.9 393 354.99 399.1 355.07 402.4 355.16 404.2 355.25 405.2 355.33 404 355.42 405.7 355.51 406.6 355.59 406.9 355.68 402.4 355.77 406.8 355.85 404.1 355.94 406.6 356.03 405.6 356.11 406.1 356.2 405.9 356.29 406 356.37 405.7 356.46 404.2 356.55 405.3 356.63 404.9 356.72 404 356.81 403.5 356.89 403.3 356.98 402.5 357.07 401.4 357.15 400 357.24 398.1 357.33 395.4 357.41 391.5 357.5 385.7 357.59 385.2 357.67 385.2 357.76 385.2 357.85 385.2 357.93 385.2 358.02 385.2 358.11 385.2 358.19 385.2 358.28 385.2 358.37 387.3 358.45 392.6 358.54 396.1 358.63 398.6 358.71 400.4 358.8 401.7 358.88 402.7 358.97 403.4 359.06 404.1 359.14 404.6 359.23 405 359.32 405.4 359.4 403.2 359.49 405.9 359.58 405.4 359.66 406.1 359.75 402.4 359.84 404.1 359.92 406.5 360.01 406.8 360.1 406.8 360.18 406.5 360.27 402.9 360.36 403.5 360.44 404 360.53 405.7 360.62 405.4 360.7 405.1 360.79 404 360.88 407.3 360.96 406.5 361.05 405 361.14 406.7 361.22 402.8 361.31 407.2 361.4 402.1 361.48 406.4 361.57 406.5 361.66 405.6 361.74 404.8 361.83 401.9 361.92 405.4 362 403.3 362.09 403.3 362.18 401.7 362.26 404.2 362.35 402.4 362.44 402.4 362.52 402.4 362.61 402.4 362.7 402.4 362.78 403.8 362.87 405.5 362.96 406.3 363.04 406.8 363.13 407.1 363.22 404.2 363.3 405.2 363.39 405.2 363.48 405.6 363.56 402.3 363.65 405.8 363.74 405.4 363.82 404.6 363.91 402.9 364 403.6 364.08 403.4 364.17 406.5 364.26 402.6 364.34 403.8 364.43 405.9 364.52 403.9 364.6 402.5 364.69 404.3 364.78 404.3 364.86 403.7 364.95 403.4 365.04 404 365.12 407 365.21 406.4 365.3 406.8 365.38 405.4 365.47 407 365.56 405.1 365.64 402.8 365.73 401.6 365.82 404.5 365.9 404.5 365.99 404.5 366.08 403.4 366.16 405.2 366.25 406.3 366.34 405.9 366.42 407.2 366.51 404.6 366.6 406.4 366.68 404.3 366.77 402.4 366.86 405.3 366.94 405.3 367.03 400.3 367.12 405.9 367.2 403.1 367.29 404.3 367.38 407.3 367.46 406 367.55 404.2 367.64 407.2 367.72 403.3 367.81 402.8 367.9 404 367.98 403.6 368.07 404.7 368.16 403.6 368.24 405.3 368.33 405.5 368.42 404.2 368.5 405.2 368.59 405.8 368.68 406 368.76 405.3 368.85 405.5 368.94 403.9 369.02 403.7 369.11 403.6 369.2 403.2 369.28 403.9 369.37 403.3 369.46 402.5 369.54 401.5 369.63 400.2 369.72 398.5 369.8 396.2 369.89 393 369.98 388.3 370.06 381.6 370.15 381.6 370.24 381.6 370.32 381.6 370.41 381.6 370.5 381.6 370.58 381.6 370.67 381.6 370.76 381.6 370.84 381.6 370.93 384.7 371.02 390.6 371.1 394.5 371.19 397.3 371.28 399.3 371.36 400.8 371.45 402 371.54 402.9 371.62 402.9 371.71 404.1 371.8 404.6 371.88 405 371.97 402.2 372.06 404 372.14 404.5 372.23 406 372.32 402.7 372.4 405.3 372.49 405.6 372.58 403.7 372.66 406 372.75 401.3 372.84 403.5 372.92 402.5 373.01 405.1 373.1 404.6 373.18 405.5 373.27 405.5 373.36 404.6 373.44 402.3 373.53 404.1 373.62 401.8 373.7 406.3 373.79 405.2 373.88 407 373.96 396.9 374.05 406.7 374.14 403.7 374.22 402.8 374.31 405.6 374.4 398.3 374.48 398.2 374.57 405.3 374.66 406 374.74 402.8 374.83 403.6 374.92 403 375 402.9 375.09 398.8 375.18 401.6 375.26 403.7 375.35 401.7 375.44 403.8 375.52 397.6 375.61 403.6 375.7 407.3 375.78 399.3 375.87 404.8 375.96 400.6 376.04 402.5 376.13 401.3 376.22 401.3 376.3 399.2 376.39 400.2 376.48 402 376.56 404.2 376.65 403.1 376.74 404.5 376.82 404.1 376.91 403.2 377 403.5 377.08 404.4 377.17 404.2 377.26 404.2 377.34 405.1 377.43 402.1 377.52 406 377.6 404.6 377.69 405.2 377.78 400.9 377.86 404.3 377.95 404.1 378.04 399.5 378.12 397.2 378.21 397.2 378.3 397.2 378.38 397.2 378.47 397.2 378.56 398.5 378.64 395.1 378.73 404.4 378.82 397.5 378.9 400.9 378.99 399.8 379.08 404.6 379.16 397.8 379.25 401.9 379.34 402.9 379.42 404.7 379.51 404.9 379.6 393.3 379.68 394.9 379.77 402.8 379.86 400 379.94 400.2 380.03 402.1 380.12 402.2 380.2 398.3 380.29 403.3 380.38 399.5 380.46 402 380.55 401.9 380.64 402 380.72 394 380.81 402 380.9 399.7 380.98 400.3 381.07 400.8 381.16 393.8 381.24 406.5 381.33 403.8 381.42 403.2 381.5 400.4 381.59 400.9 381.68 399.6 381.76 397.5 381.85 405.7 381.94 401.1 382.02 402.5 382.11 399.8 382.2 401.4 382.28 402.8 382.37 401.6 382.46 399.8 382.54 397.3 382.63 393.7 382.72 393.7 382.8 393.7 382.89 393.7 382.98 393.7 383.06 393.7 383.15 393.7 383.24 393.7 383.32 393.7 383.41 393.7 383.5 393.9 383.58 398.6 383.67 394.3 383.76 402.2 383.84 396.3 383.93 404.1 384.02 397.1 384.1 400.1 384.19 399.6 384.28 402.4 384.36 402.5 384.45 404.7 384.54 404.9 384.62 400.2 384.71 402.8 384.8 406.6 384.88 404.5 384.97 404.5 385.06 404.3 385.14 401.8 385.23 395.7 385.32 400.6 385.4 398.8 385.49 405.3 385.58 399.4 385.66 396.8 385.75 390 385.84 399.1 385.92 400.3 386.01 393.6 386.1 405 386.18 398 386.27 399 386.36 398.9 386.44 402.6 386.53 405.6 386.62 404.8 386.7 399.4 386.79 403 386.88 394.2 386.96 405 387.05 397.6 387.14 401.5 387.22 403.2 387.31 403.6 387.4 402.6 387.48 402.5 387.57 402.6 387.66 402.6 387.74 392.9 387.83 402 387.92 400 388 399.1 388.09 402.8 388.18 394.6 388.26 403.2 388.35 404.2 388.44 406.2 388.52 403.4 388.61 405.9 388.7 399.9 388.78 400.4 388.87 406.7 388.96 393.9 389.04 394.1 389.13 400.7 389.22 394.1 389.3 400.9 389.39 404.3 389.48 397.9 389.56 393.6 389.65 405.9 389.74 401.1 389.82 403.8 389.91 395.5 390 405.3 390.08 397.5 390.17 404 390.26 399.7 390.34 399.1 390.43 398.2 390.52 406 390.6 401.3 390.69 403.4 390.78 402.8 390.86 399 390.95 398.3 391.04 394.4 391.12 398.3 391.21 398.3 391.3 398.8 391.38 402.7 391.47 403.8 391.56 399.7 391.64 399 391.73 399.9 391.82 391.2 391.9 391.7 391.99 396.9 392.08 401.4 392.16 398.1 392.25 403.5 392.34 396.2 392.42 403.5 392.51 390.1 392.6 406.4 392.68 397.5 392.77 401 392.86 397.1 392.94 400.8 393.03 396.8 393.12 398.7 393.2 399.5 393.29 393.5 393.38 404.9 393.46 394.5 393.55 400.8 393.64 398.7 393.72 399.2 393.81 402 393.9 397.1 393.98 392.1 394.07 401.1 394.16 394.8 394.24 407.1 394.33 400.2 394.42 398.9 394.5 402 394.59 405.4 394.68 397.4 394.76 398 394.85 402.1 394.94 405.2 395.02 396.5 395.11 397.6 395.2 396.6 395.28 396.9 395.37 401 395.46 399.6 395.54 401 395.63 401 395.72 398.7 395.8 399 395.89 387.1 395.98 401.1 396.06 402.2 396.15 399.5 396.24 399.4 396.32 401.8 396.41 399.2 396.5 399.1 396.58 397.9 396.67 404.2 396.76 399.1 396.84 401.6 396.93 395.5 397.02 399.5 397.1 396.9 397.19 396.9 397.28 403.7 397.36 405.4 397.45 397.7 397.54 405.8 397.62 393.2 397.71 398.6 397.8 401.5 397.88 398.8 397.97 404.6 398.06 399.2 398.14 394.2 398.23 407.8 398.32 393.5 398.4 402.6 398.49 401.7 398.58 393.5 398.66 397 398.75 401.8 398.84 390.9 398.92 406.3 399.01 398.9 399.1 400.6 399.18 395.1 399.27 406.7 399.36 402.4 399.44 400.9 399.53 405.4 399.62 399 399.7 395.9 399.79 394.5 399.88 404.4 399.96 400.5 400.05 390.1 400.14 405.5 400.22 398.2 400.31 402.8 400.4 394.3 400.48 399.4 400.57 394.7 400.66 405.8 400.74 399.4 400.83 401.4 400.92 404.9 401 401.5 401.09 397.6 401.18 399.6 401.26 399.5 401.35 402.8 401.44 400.4 401.52 401 401.61 394.1 401.7 395 401.78 401.1 401.87 400.4 401.96 402.6 402.04 399.7 402.13 404.5 402.22 391.5 402.3 401.3 402.39 407 402.48 402.5 402.56 392.5 402.65 402.4 402.74 401.6 402.82 390.7 402.91 396.7 403 401.8 403.08 404 403.17 401.5 403.26 401.7 403.34 394.3 403.43 399.9 403.52 393.3 403.6 389.3 403.69 394.9 403.78 401.3 403.86 401.4 403.95 399.7 404.04 398.2 404.12 395.4 404.21 396 404.3 402.2 404.38 397.3 404.47 401.5 404.56 396.7 404.64 406.7 404.73 395.3 404.82 397.8 404.9 404.1 404.99 402.9 405.08 402.2 405.16 400 405.25 393.7 405.34 390.6 405.42 399 405.51 404.6 405.6 389.9 405.68 391.3 405.77 404.9 405.86 398.1 405.94 398.1 406.03 398.2 406.12 397.3 406.2 407.1 406.29 402.1 406.38 401.8 406.46 398.3 406.55 404.8 406.64 402.5 406.72 403.6 406.81 405.7 406.9 400.3 406.98 403.3 407.07 400.2 407.16 403.2 407.24 396 407.33 404.5 407.42 396.4 407.5 398 407.59 401.1 407.68 396.5 407.76 393 407.85 393 407.94 393 408.02 393 408.11 393 408.2 397.4 408.28 402.1 408.37 394.8 408.46 401.3 408.54 405.8 408.63 396.2 408.72 402.6 408.8 384.1 408.89 392.5 408.98 393.7 409.06 393.7 409.15 405 409.24 406.1 409.32 400.8 409.41 400.6 409.5 400.7 409.58 398.5 409.67 395.8 409.76 395.7 409.84 392.1 409.93 397.5 410.02 393.8 410.1 404.6 410.19 406 410.28 400.2 410.36 393.6 410.45 397.4 410.54 404.3 410.62 404.1 410.71 402.7 410.79 394 410.88 401.4 410.97 394.1 411.05 391.3 411.14 395.8 411.23 392.1 411.31 402.3 411.4 403 411.49 402.4 411.57 399.4 411.66 391.7 411.75 392.6 411.83 392.6 411.92 392.6 412.01 392.6 412.09 394.2 412.18 396.5 412.27 402.9 412.35 401.8 412.44 403.7 412.53 401.4 412.61 394.4 412.7 389.7 412.79 406.3 412.87 394.1 412.96 396.2 413.05 404.7 413.13 403.4 413.22 393.5 413.31 402.9 413.39 392.2 413.48 394.2 413.57 387.3 413.65 399.2 413.74 403.7 413.83 397.9 413.91 399.8 414 404.7 414.09 394.4 414.17 392.4 414.26 389.3 414.35 397.3 414.43 393.2 414.52 402.8 414.61 389.2 414.69 389.9 414.78 396.9 414.87 396.5 414.95 393.8 415.04 400.9 415.13 403.9 415.21 385.6 415.3 405.6 415.39 401.7 415.47 399.1 415.56 404.9 415.65 401.2 415.73 392.9 415.82 397.3 415.91 397.9 415.99 401.3 416.08 399.8 416.17 403.8 416.25 400.2 416.34 406.2 416.43 399.8 416.51 407 416.6 394.8 416.69 407.3 416.77 391.6 416.86 407 416.95 403.3 417.03 407.3 417.12 392.7 417.21 407.5 417.29 393.9 417.38 407.7 417.47 401.7 417.55 407.7 417.64 403.7 417.73 407.6 417.81 396.1 417.9 407.4 417.99 389.2 418.07 407.7 418.16 394.4 418.25 407.7 418.33 382 418.42 407.4 418.51 390.8 418.59 406.9 418.68 401.2 418.77 407 418.85 402 418.94 406.9 419.03 390 419.11 407.3 419.2 404.2 419.29 407 419.37 405.2 419.46 406.6 419.55 397 419.63 405.8 419.72 391.3 419.81 404 419.89 402.1 419.98 398.5 420.07 393 420.15 393 420.24 393 420.33 393 420.41 393 420.5 396.4 420.59 397.5 420.67 403.5 420.76 400.2 420.85 405.6 420.93 399.1 421.02 406.5 421.11 401.5 421.19 407 421.28 394.6 421.37 407.2 421.45 392.4 421.54 407.4 421.63 403.6 421.71 407.5 421.8 402.8 421.89 407.6 421.97 399.9 422.06 407.6 422.15 392.9 422.23 407.1 422.32 394.4 422.41 407.1 422.49 391.1 422.58 407.7 422.67 402.3 422.75 406.9 422.84 402.5 422.93 407 423.01 393.6 423.1 406.8 423.19 377.3 423.27 407.7 423.36 406.8 423.45 407.1 423.53 389.8 423.62 407.3 423.71 397.5 423.79 407.1 423.88 397.3 423.97 406.9 424.05 395.5 424.14 407.5 424.23 403.7 424.31 406.9 424.4 406 424.49 406.9 424.57 401.7 424.66 406.5 424.75 400.2 424.83 405.2 424.92 400.2 425.01 400.7 425.09 399 425.18 399 425.27 395.3 425.35 399 425.44 399 425.53 402.4 425.61 401.7 425.7 405.6 425.79 390.9 425.87 406.7 425.96 405.6 426.05 407.1 426.13 398.1 426.22 407.4 426.31 399.5 426.39 407.5 426.48 395.8 426.57 407.6 426.65 391.1 426.74 407 426.83 401.3 426.91 407.7 427 400.8 427.09 407.5 427.17 397.4 427.26 407.2 427.35 386.6 427.43 407.6 427.52 388.6 427.61 406.9 427.69 397.9 427.78 406.9 427.87 393.4 427.95 407.5 428.04 397.1 428.13 407.2 428.21 395.2 428.3 407 428.39 404.4 428.47 406.8 428.56 388.2 428.65 407.1 428.73 392.4 428.82 407.4 428.91 386 428.99 407.5 429.08 402.4 429.17 407.2 429.25 399.5 429.34 407.1 429.43 391.8 429.51 407.1 429.6 401.5 429.69 407.3 429.77 382.7 429.86 406.9 429.95 397.4 430.03 406.9 430.12 397.9 430.21 407.1 430.29 392.3 430.38 407 430.47 404.5 430.55 406.9 430.64 401.8 430.73 406.7 430.81 394.5 430.9 406.5 430.99 389 431.07 406.3 431.16 401.4 431.25 406 431.33 390.1 431.42 405.6 431.51 390.2 431.59 405.2 431.68 388.8 431.77 404.5 431.85 391.5 431.94 403.5 432.03 394.5 432.11 402.1 432.2 380.5 432.29 399.8 432.37 398.2 432.46 396 432.55 393.1 432.63 388.9 432.72 382.9 432.81 375 432.89 375 432.98 375 433.07 375 433.15 375 433.24 375 433.33 375 433.41 375 433.5 375 433.59 375 433.67 379.4 433.76 386.6 433.85 391.4 433.93 394.9 434.02 397.3 434.11 399.2 434.19 400.6 434.28 401.7 434.37 402.5 434.45 395.6 434.54 403.8 434.63 400.5 434.71 404.7 434.8 393.7 434.89 405.3 434.97 395.8 435.06 405.8 435.15 404.8 435.23 406.1 435.32 395.1 435.41 406.4 435.49 401.2 435.58 406.6 435.67 394 435.75 406.8 435.84 392 435.93 406.9 436.01 393.2 436.1 407 436.19 393.4 436.27 406.9 436.36 402.1 436.45 407.2 436.53 391.6 436.62 407.3 436.71 400.4 436.79 407.3 436.88 395 436.97 407.4 437.05 402 437.14 407.4 437.23 390.6 437.31 407.1 437.4 388.4 437.49 407.3 437.57 399.4 437.66 407.2 437.75 399.4 437.83 406.9 437.92 393.2 438.01 407.3 438.09 398.7 438.18 406.9 438.27 381.8 438.35 407 438.44 395 438.53 407.3 438.61 393.1 438.7 407.2 438.79 404.9 438.87 407.4 438.96 399.7 439.05 407.5 439.13 400.3 439.22 407.1 439.31 387.8 439.39 407.2 439.48 396 439.57 407.5 439.65 399.2 439.74 407.2 439.83 398.1 439.91 407.3 440 399.7 440.09 407.2 440.17 403.4 440.26 407 440.35 396.9 440.43 406.6 440.52 394.7 440.61 405.9 440.69 403.4 440.78 404.4 440.87 399.5 440.95 400.7 441.04 396.3 441.13 388.7 441.21 388.7 441.3 388.7 441.39 388.7 441.47 388.7 441.56 392.1 441.65 398.7 441.73 397.8 441.82 403.7 441.91 401.6 441.99 405.6 442.08 399.2 442.17 406.4 442.25 390.5 442.34 406.9 442.43 399.1 442.51 407.1 442.6 403.8 442.69 407.2 442.77 399.8 442.86 406.9 442.95 404.8 443.03 407.5 443.12 403.9 443.21 407.6 443.29 397.4 443.38 407 443.47 395.6 443.55 407.7 443.64 401.5 443.73 407.3 443.81 398.9 443.9 406.9 443.99 395.5 444.07 407 444.16 391.1 444.25 407.2 444.33 399.8 444.42 407.2 444.51 397 444.59 406.9 444.68 395.3 444.77 406.5 444.85 399.3 444.94 405.6 445.03 398.4 445.11 403.5 445.2 392.4 445.29 397 445.37 391.8 445.46 391.8 445.55 390.8 445.63 391.8 445.72 391.8 445.81 396.3 445.89 394.9 445.98 403.3 446.07 395.2 446.15 405.5 446.24 401.9 446.33 406.4 446.41 402.4 446.5 406.9 446.59 400.5 446.67 407.1 446.76 397 446.85 407 446.93 393.7 447.02 407.2 447.11 402.6 447.19 407.1 447.28 396.1 447.37 407.6 447.45 388.4 447.54 407.5 447.63 389.9 447.71 407.2 447.8 395.4 447.89 407.1 447.97 392.9 448.06 407.3 448.15 393.4 448.23 407 448.32 397.8 448.41 407.3 448.49 402.1 448.58 407.1 448.67 398.1 448.75 407 448.84 405 448.93 407.6 449.01 395 449.1 407.5 449.19 398.9 449.27 406.9 449.36 390.6 449.45 407 449.53 390.9 449.62 406.1 449.71 404 449.79 403.5 449.88 392.2 449.97 401.5 450.05 392.6 450.14 401.5 450.23 396 450.31 403.3 450.4 394.1 450.49 406.1 450.57 401 450.66 407 450.75 400 450.83 407.3 450.92 399.2 451.01 407.1 451.09 399.5 451.18 407.6 451.27 403.8 451.35 407.7 451.44 400.4 451.53 407.3 451.61 401.6 451.7 407.4 451.79 402.2 451.87 407.2 451.96 405.6 452.05 407.6 452.13 402.9 452.22 407.8 452.31 393.5 452.39 407.6 452.48 404.9 452.57 407.2 452.65 396.6 452.74 407.5 452.83 398.1 452.91 407.6 453 400.7 453.09 407.2 453.17 405.8 453.26 407.4 453.35 403 453.43 407.8 453.52 399.2 453.61 407.6 453.69 405.9 453.78 407.2 453.87 397.7 453.95 407.9 454.04 403.3 454.13 407.3 454.21 400.8 454.3 407.7 454.39 402.9 454.47 407.3 454.56 396.6 454.65 407.8 454.73 397 454.82 407.4 454.91 399.8 454.99 407.3 455.08 401.4 455.17 407.8 455.25 405.5 455.34 407.2 455.43 386.3 455.51 407.8 455.6 396 455.69 407.8 455.77 397.6 455.86 407.3 455.95 393.5 456.03 407.6 456.12 404 456.21 407.8 456.29 405.8 456.38 407.5 456.47 400.9 456.55 407.6 456.64 394.3 456.73 407.3 456.81 397.7 456.9 407.3 456.99 404.3 457.07 407.2 457.16 404.4 457.25 406.6 457.33 400.3 457.42 405 457.51 403.1 457.59 401.7 457.68 400.9 457.77 401.7 457.85 401.7 457.94 400 458.03 404 458.11 405.5 458.2 404.7 458.29 398.9 458.37 406 458.46 400.4 458.55 405.8 458.63 405.5 458.72 401.6 458.81 402.6 458.89 404.6 458.98 402.3 459.07 405.7 459.15 400.6 459.24 403.2 459.33 399.5 459.41 403.2 459.5 403.3 459.59 401.2 459.67 403.3 459.76 406.3 459.85 403.2 459.93 405 460.02 403.1 460.11 396.6 460.19 403.3 460.28 401.7 460.37 404.8 460.45 407.2 460.54 406.7 460.63 407.1 460.71 405.5 460.8 405.3 460.89 405 460.97 403.3 461.06 402.7 461.15 402.5 461.23 402.7 461.32 401.8 461.41 402.9 461.49 404.4 461.58 404.6 461.67 406.5 461.75 407.2 461.84 401.8 461.93 406 462.01 398.6 462.1 404.7 462.19 406.7 462.27 402.1 462.36 403 462.45 397.4 462.53 404 462.62 400.7 462.71 404.1 462.79 405.4 462.88 404.7 462.96 403.2 463.05 401.3 463.14 402.1 463.22 400.6 463.31 403.9 463.4 404.3 463.48 403.9 463.57 400.4 463.66 404.7 463.74 406.6 463.83 404.6 463.92 403.1 464 401.6 464.09 400 464.18 402.7 464.26 401.7 464.35 401.7 464.44 401.7 464.52 403.2 464.61 399.6 464.7 400.6 464.78 407.3 464.87 406 464.96 396.9 465.04 402.5 465.13 405.8 465.22 399.9 465.3 406.2 465.39 403.2 465.48 404.1 465.56 404.7 465.65 405 465.74 406.1 465.82 404.1 465.91 406 466 402.4 466.08 404.3 466.17 401.1 466.26 398.5 466.34 399.5 466.43 401.2 466.52 400.7 466.6 403.7 466.69 396.8 466.78 402.3 466.86 402.5 466.95 401.4 467.04 405 467.12 402.9 467.21 405.5 467.3 398 467.38 402.5 467.47 405.4 467.56 395.9 467.64 401.8 467.73 400.1 467.82 399.5 467.9 400.6 467.99 402.7 468.08 403.9 468.16 406.2 468.25 401 468.34 405.4 468.42 403 468.51 397.4 468.6 397 468.68 398.5 468.77 404.4 468.86 395.7 468.94 404.9 469.03 396.2 469.12 399.1 469.2 393.9 469.29 392.6 469.38 401.2 469.46 403.1 469.55 395.7 469.64 403 469.72 402.8 469.81 400.5 469.9 404.6 469.98 401.5 470.07 404.6 470.16 401.4 470.24 395.3 470.33 394.8 470.42 385.8 470.5 398.3 470.59 398 470.68 401.4 470.76 395.1 470.85 404.4 470.94 403.9 471.02 402.8 471.11 401.4 471.2 405.4 471.28 398 471.37 403.6 471.46 393.1 471.54 399.5 471.63 397.9 471.72 397.7 471.8 390.6 471.89 400.2 471.98 399.1 472.06 402.5 472.15 399.8 472.24 404.6 472.32 391.2 472.41 392.3 472.5 404.8 472.58 406.4 472.67 407.1 472.76 399.1 472.84 407.2 472.93 401.2 473.02 407.6 473.1 400.4 473.19 407.1 473.28 405.5 473.36 407.5 473.45 404.3 473.54 407.3 473.62 399.2 473.71 407 473.8 396.7 473.88 406.3 473.97 402.8 474.06 404.8 474.14 387.6 474.23 399.3 474.32 398.6 474.4 398.6 474.49 393.5 474.58 398.6 474.66 399.1 474.75 402.9 474.84 397.3 474.92 405.7 475.01 394.1 475.1 406.7 475.18 399.2 475.27 407.1 475.36 391.9 475.44 406.7 475.53 391 475.62 406.8 475.7 391.7 475.79 407.6 475.88 403.1 475.96 407.6 476.05 397.5 476.14 407 476.22 403 476.31 407.3 476.4 402.5 476.48 407.4 476.57 391 476.66 406.4 476.74 380.4 476.83 407.8 476.92 395.9 477 406.7 477.09 402.4 477.18 407.6 477.26 395.7 477.35 406.8 477.44 392.4 477.52 406.8 477.61 393.2 477.7 406.8 477.78 395.8 477.87 407.1 477.96 390.6 478.04 407.1 478.13 389.9 478.22 407.8 478.3 404.3 478.39 407.1 478.48 395.1 478.56 407.1 478.65 388.1 478.74 407.5 478.82 401.3 478.91 407 479 390.8 479.08 407.2 479.17 390.9 479.26 407 479.34 387.9 479.43 406.8 479.52 397 479.6 407.5 479.69 395.2 479.78 407.1 479.86 395.2 479.95 407.8 480.04 386 480.12 406.8 480.21 398 480.3 406.8 480.38 391.3 480.47 407 480.56 399.5 480.64 407 480.73 394.9 480.82 407.1 480.9 400.9 480.99 407.5 481.08 387.6 481.16 406.8 481.25 397.8 481.34 407.7 481.42 380.9 481.51 407.1 481.6 394.2 481.68 407.6 481.77 398.1 481.86 406.9 481.94 391.9 482.03 407.2 482.12 397.6 482.2 406.8 482.29 392 482.38 405.8 482.46 400.1 482.55 402.9 482.64 371.7 482.72 399.6 482.81 399.1 482.9 399.6 482.98 399.6 483.07 401.1 483.16 383.5 483.24 405.3 483.33 396.9 483.42 406.6 483.5 399.4 483.59 407.1 483.68 396.4 483.76 406.9 483.85 398.8 483.94 407.4 484.02 391.1 484.11 406.9 484.2 393.7 484.28 406.9 484.37 392.3 484.46 407.7 484.54 389.4 484.63 407.1 484.72 387.5 484.8 406.8 484.89 399.1 484.98 406 485.06 396.9 485.15 407.8 485.24 396.5 485.32 407.7 485.41 393.7 485.5 407.3 485.58 397.7 485.67 406.9 485.76 398.7 485.84 407.6 485.93 398.7 486.02 406.6 486.1 402.7 486.19 406.9 486.28 397.3 486.36 407.2 486.45 397.5 486.54 406.8 486.62 387.2 486.71 406.2 486.8 402.6 486.88 404.7 486.97 394.7 487.06 400.2 487.14 384.8 487.23 395.3 487.32 395.3 487.4 395.3 487.49 394.5 487.58 397.6 487.66 378.6 487.75 404 487.84 392.3 487.92 405.9 488.01 386.2 488.1 406.7 488.18 396.3 488.27 407.1 488.36 399.3 488.44 407.3 488.53 392.7 488.62 407.5 488.7 398.4 488.79 406.8 488.88 392.7 488.96 407.6 489.05 388.6 489.14 407.7 489.22 397.4 489.31 407.6 489.4 399.2 489.48 407.3 489.57 399.3 489.66 407.1 489.74 396.4 489.83 407.7 489.92 396.9 490 407.7 490.09 401.1 490.18 407.6 490.26 396.1 490.35 407.4 490.44 393.5 490.52 406.6 490.61 387.9 490.7 406.9 490.78 397.6 490.87 406.7 490.96 390.3 491.04 405.7 491.13 396.2 491.22 402.7 491.3 399.4 491.39 399.4 491.48 396.8 491.56 399.4 491.65 398.7 491.74 401.1 491.82 389.8 491.91 405.3 492 393.5 492.08 406.6 492.17 398.6 492.26 406.6 492.34 395.6 492.43 407.4 492.52 396.7 492.6 406.6 492.69 389.4 492.78 407 492.86 390.3 492.95 407 493.04 399 493.12 406.8 493.21 393.4 493.3 406.6 493.38 395.5 493.47 407.7 493.56 396.8 493.64 407.5 493.73 377.8 493.82 406.5 493.9 389.6 493.99 406.9 494.08 395.1 494.16 406.6 494.25 394.2 494.34 407.4 494.42 387.8 494.51 406.5 494.6 394.9 494.68 407.3 494.77 386 494.86 406.7 494.94 381.2 495.03 406.5 495.12 390.4 495.2 406.9 495.29 392.3 495.38 406.3 495.46 391.7 495.55 404.9 495.64 394.8 495.72 400.6 495.81 396.2 495.9 396.2 495.98 396.2 496.07 396.2 496.16 394.5 496.24 398.6 496.33 398.4 496.42 404.4 496.5 389.5 496.59 406.1 496.68 384.8 496.76 406.8 496.85 386.1 496.94 406.5 497.02 394.5 497.11 407.3 497.2 380.1 497.28 407.5 497.37 381.5 497.46 406.8 497.54 394.5 497.63 406.2 497.72 400.2 497.8 406.6 497.89 382.8 497.98 406.2 498.06 389.9 498.15 407.6 498.24 386.7 498.32 407.4 498.41 374.6 498.5 406.5 498.58 392.9 498.67 407.1 498.76 392 498.84 407.3 498.93 388.8 499.02 407.1 499.1 386.4 499.19 406.8 499.28 383.5 499.36 406.3 499.45 399 499.54 405.5 499.62 390.6 499.71 403.7 499.8 392.5 499.88 398.9 499.97 392.5 500.06 386.6 500.14 384 500.23 386.6 500.32 386.6 500.4 386.6 500.49 382.2 500.58 398.9 500.66 397.3 500.75 403.7 500.84 387.5 500.92 405.5 501.01 384.5 501.1 406.3 501.18 382.7 501.27 406.3 501.36 388.7 501.44 405.1 501.53 383.4 501.62 401.2 501.7 369.1 501.79 397.3 501.88 365.9 501.96 397.3 502.05 384.8 502.14 399.6 502.22 387.5 502.31 404.7 502.4 392.1 502.48 406.2 502.57 396.1 502.66 406.9 502.74 391.8 502.83 407.2 502.92 385.5 503 407.3 503.09 389.5 503.18 406.2 503.26 394.5 503.35 406 503.44 378.1 503.52 405.5 503.61 373.2 503.7 402.8 503.78 368.8 503.87 396 503.96 375 504.04 396 504.13 365.7 504.22 396 504.3 380.6 504.39 402.9 504.48 390.8 504.56 405.6 504.65 376.8 504.74 405.9 504.82 371.5 504.91 406.9 505 375.5 505.08 407.2 505.17 375.1 505.26 405.8 505.34 385.7 505.43 406.4 505.52 377.3 505.6 407.1 505.69 373 505.78 407.5 505.86 387.8 505.95 407 506.04 388.9 506.12 406.9 506.21 387.1 506.3 406.1 506.38 394.8 506.47 406.3 506.56 392.6 506.64 406.8 506.73 385.1 506.82 405.9 506.9 381.5 506.99 406 507.08 373.6 507.16 406 507.25 373.4 507.34 406.1 507.42 390 507.51 405.1 507.6 397.5 507.68 403.1 507.77 374.2 507.86 397.6 507.94 388.2 508.03 383.9 508.12 383.9 508.2 383.9 508.29 383.9 508.38 383.9 508.46 390.8 508.55 398 508.64 368.2 508.72 403.2 508.81 375.1 508.9 405.2 508.98 365.8 509.07 406.2 509.16 385.3 509.24 406.1 509.33 374.6 509.42 407 509.5 381.5 509.59 406.6 509.68 368.7 509.76 405.4 509.85 385.3 509.94 401.7 510.02 387.3 510.11 398.3 510.2 381.9 510.28 398.3 510.37 361.2 510.46 400.6 510.54 387.3 510.63 405.1 510.72 374.3 510.8 406.4 510.89 390.7 510.98 406.4 511.06 385 511.15 407.3 511.24 391 511.32 406 511.41 386.2 511.5 407.5 511.58 393.7 511.67 407.3 511.76 386.8 511.84 405.5 511.93 379 512.02 406.6 512.1 395.6 512.19 405.9 512.28 387.8 512.36 403.9 512.45 389.7 512.54 397.4 512.62 381.6 512.71 395 512.8 375.2 512.88 395 512.97 386.7 513.06 400.1 513.14 384.7 513.23 404.6 513.32 384.4 513.4 406.1 513.49 385 513.58 406.8 513.66 389.8 513.75 406.5 513.84 379 513.92 407.4 514.01 396.9 514.1 406.8 514.18 400.6 514.27 407.2 514.36 397.5 514.44 406.9 514.53 397.1 514.62 407.2 514.7 394.2 514.79 406.8 514.87 378.4 514.96 406.6 515.05 379.7 515.13 406.6 515.22 397.8 515.31 406 515.39 384.4 515.48 404.3 515.57 395.9 515.65 398.3 515.74 396.2 515.83 396.2 515.91 387.1 516 396.2 516.09 392.2 516.17 400.9 516.26 390.6 516.35 405 516.43 396.9 516.52 406.3 516.61 389.9 516.69 406.9 516.78 398.8 516.87 406.3 516.95 397.7 517.04 407.4 517.13 394.8 517.21 407.5 517.3 402.6 517.39 406.7 517.47 376.9 517.56 406.4 517.65 385.7 517.73 406.9 517.82 391.9 517.91 406.5 517.99 396.4 518.08 405.6 518.17 387.1 518.25 402.3 518.34 392.4 518.43 399.4 518.51 388.5 518.6 399.4 518.69 396.4 518.77 401.6 518.86 387.9 518.95 405.4 519.03 371.5 519.12 406.6 519.21 381.1 519.29 407.1 519.38 397.3 519.47 406.6 519.55 388.6 519.64 407.5 519.73 393.4 519.81 407.6 519.9 392.5 519.99 407.6 520.07 388.4 520.16 407.4 520.25 393.5 520.33 407.2 520.42 388.6 520.51 406.7 520.59 386.7 520.68 405.5 520.77 384.7 520.85 401.5 520.94 390.6 521.03 400.3 521.11 387.7 521.2 400.3 521.29 391.9 521.37 403.4 521.46 388.5 521.55 406 521.63 399.4 521.72 406.9 521.81 389 521.89 406.6 521.98 396.6 522.07 406.7 522.15 398 522.24 406.4 522.33 379.2 522.41 406.7 522.5 388.9 522.59 406.8 522.67 389.2 522.76 407.3 522.85 398.3 522.93 407 523.02 373.3 523.11 407 523.19 398.3 523.28 406.4 523.37 398.9 523.45 407.4 523.54 389.2 523.63 406.6 523.71 394.5 523.8 406.5 523.89 399.4 523.97 406.5 524.06 379.9 524.15 406.1 524.23 384.8 524.32 403.6 524.41 393.6 524.49 400 524.58 397.9 524.67 400 524.75 393.1 524.84 400.6 524.93 399.1 525.01 405.3 525.1 392.3 525.19 406.6 525.27 403.5 525.36 407.1 525.45 387.4 525.53 406.8 525.62 393.2 525.71 407.5 525.79 394 525.88 406.7 525.97 396.3 526.05 407 526.14 400.7 526.23 407.7 526.31 394.3 526.4 407.8 526.49 399.4 526.57 407.3 526.66 383.8 526.75 406.7 526.83 392.2 526.92 406.4 527.01 395.1 527.09 406.8 527.18 390.9 527.27 407.6 527.35 393.9 527.44 406.6 527.53 384.8 527.61 407.7 527.7 392.6 527.79 407.3 527.87 399.1 527.96 406.9 528.05 397.6 528.13 407.4 528.22 399.9 528.31 407.2 528.39 382.5 528.48 406.9 528.57 392.4 528.65 406 528.74 388.6 528.83 403.6 528.91 391.9 529 400 529.09 389.2 529.17 400 529.26 389.7 529.35 400.7 529.43 386.2 529.52 405.3 529.61 395.8 529.69 406.5 529.78 398 529.87 407.1 529.95 393 530.04 406.7 530.13 391 530.21 406.8 530.3 382.1 530.39 407.2 530.47 384.3 530.56 407.3 530.65 392.5 530.73 407.2 530.82 390.2 530.91 407.7 530.99 401.9 531.08 407.8 531.17 387.2 531.25 407.7 531.34 394.7 531.43 407.7 531.51 385.3 531.6 407.8 531.69 389.8 531.77 407.3 531.86 399.9 531.95 407.7 532.03 383.9 532.12 406.4 532.21 384.4 532.29 407.3 532.38 391.6 532.47 407.6 532.55 392.4 532.64 406.9 532.73 395 532.81 406.8 532.9 391.7 532.99 406.5 533.07 391.3 533.16 406.6 533.25 377.9 533.33 405.2 533.42 400.2 533.51 400.7 533.59 392.2 533.68 400.7 533.77 390.6 533.85 400.7 533.94 394.9 534.03 404.5 534.11 378.7 534.2 406.4 534.29 392.4 534.37 407 534.46 400.3 534.55 407.3 534.63 392.7 534.72 406.5 534.81 389.9 534.89 407.6 534.98 388.6 535.07 407.4 535.15 396.8 535.24 406.8 535.33 392.8 535.41 407.8 535.5 402 535.59 407.1 535.67 402.2 535.76 406.6 535.85 393.1 535.93 407.1 536.02 397.6 536.11 407.8 536.19 393.7 536.28 407.7 536.37 403.5 536.45 407.3 536.54 397.1 536.63 407.8 536.71 384.7 536.8 407 536.89 400 536.97 407.5 537.06 395 537.15 407.4 537.23 399.1 537.32 406.8 537.41 394.2 537.49 406.9 537.58 396.7 537.67 406.8 537.75 392.2 537.84 407.5 537.93 385.6 538.01 407.4 538.1 400 538.19 407.1 538.27 385.6 538.36 406.6 538.45 399 538.53 405.2 538.62 402.6 538.71 400.8 538.79 395.2 538.88 400.8 538.97 400.8 539.05 400.8 539.14 397.3 539.23 404.6 539.31 399.1 539.4 406.4 539.49 396.9 539.57 406.7 539.66 395.4 539.75 407.4 539.83 395 539.92 406.8 540.01 398.2 540.09 407.2 540.18 399 540.27 407.1 540.35 398.1 540.44 407.6 540.53 402.3 540.61 406.9 540.7 398.3"/>
<path class="pk" d="M333.01 398.3V359.6M345.36 406V340.9M357.92 406.2V304.8M370.48 405.8V288.2M383.04 403.6V343.5M433.22 401.8V258.1M352.97 406.1V375.1M354.7 406.2V340.3M362.53 406.2V383M365.93 406.1V392.4M378.33 404.2V359M375.07 405V388.6M380.62 403.8V380.9M387.55 403.4V383.8M391.08 403.3V364.4M395.52 403.1V376.4M403.49 402.8V378.4M407.92 402.6V340.3M411.87 402.4V338.4M415.89 402.2V378M420.26 402V340.3M425.25 401.8V367.3M441.32 402.1V320.5M445.55 402.3V334.8M450.06 402.8V378.9M457.75 404.8V379.9M466.55 404.7V388.6M474.45 402V365.8M482.83 400.6V370.2M487.34 400.8V350.4M491.5 400.7V369.3M496 399.6V354.8M500.23 397.8V311M501.89 397.1V359.6M504.04 396.5V353.8M508.2 396.2V298.8M510.21 396.6V364.4M512.77 397.4V349.4M515.89 398.5V354.8M518.52 399.4V369.3M521.09 399.9V373.1M524.62 400.1V372.2M529.13 399.8V372.2M533.7 400V375.1M538.9 401.1V375.6"/>
<g stroke="#5a5a5a" stroke-width="0.7" fill="none"><rect x="332.8" y="253.4" width="207.9" height="154.5"/><path d="M332.8 407.9v-2.2M332.8 253.4v2.2M367.45 407.9v-2.2M367.45 253.4v2.2M402.1 407.9v-2.2M402.1 253.4v2.2M436.75 407.9v-2.2M436.75 253.4v2.2M471.4 407.9v-2.2M471.4 253.4v2.2M506.05 407.9v-2.2M506.05 253.4v2.2M540.7 407.9v-2.2M540.7 253.4v2.2M332.8 407.9h2.2M540.7 407.9h-2.2M332.8 388.59h2.2M540.7 388.59h-2.2M332.8 369.27h2.2M540.7 369.27h-2.2M332.8 349.96h2.2M540.7 349.96h-2.2M332.8 330.65h2.2M540.7 330.65h-2.2M332.8 311.34h2.2M540.7 311.34h-2.2M332.8 292.02h2.2M540.7 292.02h-2.2M332.8 272.71h2.2M540.7 272.71h-2.2M332.8 253.4h2.2M540.7 253.4h-2.2"/></g>
<g class="tk" style="font-size:6.2px"><text x="332.8" y="417.1" text-anchor="middle">0</text><text x="367.45" y="417.1" text-anchor="middle">50</text><text x="402.1" y="417.1" text-anchor="middle">100</text><text x="436.75" y="417.1" text-anchor="middle">150</text><text x="471.4" y="417.1" text-anchor="middle">200</text><text x="506.05" y="417.1" text-anchor="middle">250</text><text x="540.7" y="417.1" text-anchor="middle">300</text><text x="329.2" y="410.2" text-anchor="end">0</text><text x="329.2" y="390.89" text-anchor="end">0.02</text><text x="329.2" y="371.57" text-anchor="end">0.04</text><text x="329.2" y="352.26" text-anchor="end">0.06</text><text x="329.2" y="332.95" text-anchor="end">0.08</text><text x="329.2" y="313.64" text-anchor="end">0.1</text><text x="329.2" y="294.32" text-anchor="end">0.12</text><text x="329.2" y="275.01" text-anchor="end">0.14</text><text x="329.2" y="255.7" text-anchor="end">0.16</text></g>
<text class="tt" font-size="11.2" x="334.3" y="244.6" textLength="195.3" lengthAdjust="spacingAndGlyphs">After adjusting frequency (Bottom point)</text>
<text class="lb" font-size="12.8" transform="translate(302.1 316.85) rotate(-90) scale(1.001 1)" text-anchor="middle">Power Spectrum [ m/s<tspan font-size="8.1" dy="-4.2">2</tspan><tspan dy="4.2">]</tspan></text>
<text class="lb" font-size="12.5" transform="translate(444.7 433.8) scale(0.949 1)" text-anchor="middle">Frequency [Hz]</text>
<g class="tip" font-size="6.2"><rect x="374.2" y="266.1" width="26" height="17.2"/><text x="376.3" y="273.4">X: 54.37</text><text x="376.3" y="281.2">Y: 0.124</text></g>
<g class="tip" font-size="6.2"><rect x="323.7" y="282.7" width="30.5" height="17.8"/><text x="325.8" y="289.8">X: 36.25</text><text x="325.8" y="297.7">Y: 0.1068</text></g>
<g class="tip" font-size="6.2"><rect x="307.5" y="318.8" width="34.5" height="17.7"/><text x="309.6" y="326">X: 18.12</text><text x="309.6" y="333.9">Y: 0.06938</text></g>
<g class="tip" font-size="6.2"><rect x="387.1" y="322" width="33.3" height="16.2"/><text x="389.2" y="328.8">X: 72.5</text><text x="389.2" y="336.4">Y: 0.06672</text></g>
<g class="tip" font-size="6.6"><rect x="436.7" y="261" width="31.3" height="19.4"/><text x="438.8" y="269.5">X: 144.9</text><text x="438.8" y="277.8">Y: 0.1551</text></g>
<rect class="mk" x="343.06" y="338.8" width="4.6" height="4.2"/>
<rect class="mk" x="355.62" y="302.67" width="4.6" height="4.2"/>
<rect class="mk" x="368.18" y="286.06" width="4.6" height="4.2"/>
<rect class="mk" x="380.74" y="341.37" width="4.6" height="4.2"/>
<rect class="mk" x="430.92" y="256.03" width="4.6" height="4.2"/>
<text class="cap" x="265.9" y="457.1" textLength="15.6" lengthAdjust="spacingAndGlyphs">(<tspan font-weight="bold">b</tspan>)</text>
<rect x="288" y="437.5" width="9" height="3" rx="1.5" fill="#fdf7ae"/>
</svg></body></html>
